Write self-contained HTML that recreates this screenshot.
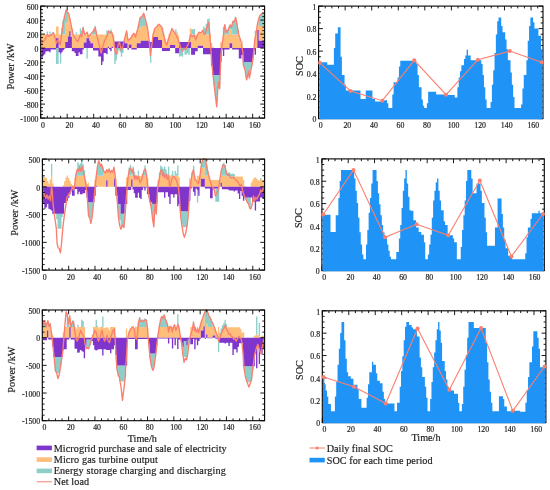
<!DOCTYPE html>
<html><head><meta charset="utf-8"><title>Figure</title>
<style>
html,body{margin:0;padding:0;background:#fff;}
svg{display:block;font-family:"Liberation Serif",serif;}
text{fill:#1c1c1c;stroke:#1c1c1c;stroke-width:0.18px;}
</style></head><body>
<svg width="550" height="490" viewBox="0 0 550 490">
<rect width="550" height="490" fill="#fff"/>
<path d="M41.36 34.45h1.37v13.65h-1.37zM42.69 34.45h1.37v13.65h-1.37zM44.01 34.45h1.37v13.65h-1.37zM45.34 34.45h1.37v13.65h-1.37zM46.66 34.45h1.37v13.65h-1.37zM47.99 34.45h1.37v13.65h-1.37zM49.31 34.45h1.37v13.65h-1.37zM50.64 34.45h1.37v13.65h-1.37zM51.96 34.45h1.37v13.65h-1.37zM53.29 34.45h1.37v13.65h-1.37zM54.61 34.45h1.37v13.65h-1.37zM55.94 26.4h1.37v11.9h-1.37zM57.26 26.4h1.37v11.9h-1.37zM58.59 34.45h1.37v13.65h-1.37zM59.91 34.45h1.37v13.65h-1.37zM61.24 34.45h1.37v13.65h-1.37zM62.56 34.45h1.37v13.65h-1.37zM63.88 34.45h1.37v13.65h-1.37zM65.21 23.11h1.37v18.9h-1.37zM66.53 22.41h1.37v19.6h-1.37zM67.86 14.08h1.37v22.4h-1.37zM69.18 18.74h1.37v12.49h-1.37zM70.51 25.17h1.37v11.94h-1.37zM71.83 34.45h1.37v13.65h-1.37zM73.16 34.45h1.37v13.65h-1.37zM74.48 34.45h1.37v13.65h-1.37zM75.81 34.45h1.37v13.65h-1.37zM77.13 34.45h1.37v13.65h-1.37zM78.46 34.45h1.37v13.65h-1.37zM79.78 34.45h1.37v13.65h-1.37zM81.11 34.45h1.37v13.65h-1.37zM82.43 34.45h1.37v13.65h-1.37zM83.76 34.45h1.37v8.12h-1.37zM85.08 34.45h1.37v8.12h-1.37zM86.41 34.45h1.37v3.85h-1.37zM87.73 34.45h1.37v3.85h-1.37zM89.06 34.45h1.37v6.3h-1.37zM90.38 34.45h1.37v8.75h-1.37zM91.71 34.45h1.37v8.75h-1.37zM93.03 34.45h1.37v13.65h-1.37zM94.36 34.45h1.37v13.65h-1.37zM95.68 34.45h1.37v13.65h-1.37zM97.01 34.45h1.37v13.65h-1.37zM98.33 34.45h1.37v13.65h-1.37zM99.66 34.45h1.37v13.65h-1.37zM100.98 34.45h1.37v13.65h-1.37zM102.31 34.45h1.37v13.65h-1.37zM103.63 34.45h1.37v13.65h-1.37zM104.96 34.45h1.37v13.65h-1.37zM106.28 34.45h1.37v13.65h-1.37zM107.61 33.05h1.37v13.65h-1.37zM108.93 34.45h1.37v13.65h-1.37zM110.25 34.45h1.37v13.65h-1.37zM111.58 33.05h1.37v13.65h-1.37zM112.9 34.45h1.37v13.65h-1.37zM123.5 40.75h1.37v0.63h-1.37zM124.83 35.25h1.37v7.95h-1.37zM126.15 32.41h1.37v10.79h-1.37zM127.48 38.92h1.37v9.18h-1.37zM128.8 39.37h1.37v5.09h-1.37zM130.13 37.96h1.37v6.5h-1.37zM131.45 34.53h1.37v13.57h-1.37zM132.78 32.68h1.37v15.42h-1.37zM134.1 33.93h1.37v14.17h-1.37zM135.43 33.44h1.37v14.66h-1.37zM136.75 30.05h1.37v13.15h-1.37zM138.08 28.5h1.37v14.7h-1.37zM139.4 28.5h1.37v14.7h-1.37zM140.73 26.05h1.37v14.7h-1.37zM142.05 26.05h1.37v14.7h-1.37zM143.38 26.05h1.37v14.7h-1.37zM144.7 26.05h1.37v14.7h-1.37zM146.03 24.61h1.37v16.14h-1.37zM147.35 31.43h1.37v9.32h-1.37zM152.65 33.75h1.37v3.36h-1.37zM153.97 29h1.37v8.11h-1.37zM155.3 27.41h1.37v9.7h-1.37zM156.62 26.03h1.37v11.08h-1.37zM157.95 24.4h1.37v15.72h-1.37zM159.27 25.23h1.37v14.89h-1.37zM160.6 26.35h1.37v13.77h-1.37zM161.92 33.4h1.37v14.7h-1.37zM163.25 33.45h1.37v14.65h-1.37zM164.57 38.71h1.37v9.39h-1.37zM165.9 41.94h1.37v6.16h-1.37zM167.22 38.41h1.37v9.69h-1.37zM168.55 34.08h1.37v14.02h-1.37zM169.87 32.61h1.37v12.41h-1.37zM171.2 28.83h1.37v16.19h-1.37zM172.52 30.38h1.37v14.64h-1.37zM173.85 32.43h1.37v12.59h-1.37zM175.17 33.4h1.37v14.7h-1.37zM176.5 32.19h1.37v15.91h-1.37zM177.82 35.57h1.37v12.53h-1.37zM189.75 28.36h1.37v13.65h-1.37zM191.07 34.45h1.37v13.65h-1.37zM192.4 34.45h1.37v13.65h-1.37zM193.72 34.45h1.37v13.65h-1.37zM195.05 34.45h1.37v13.65h-1.37zM196.37 34.45h1.37v13.65h-1.37zM197.69 32h1.37v13.65h-1.37zM199.02 32h1.37v13.65h-1.37zM200.34 32h1.37v13.65h-1.37zM201.67 32h1.37v13.65h-1.37zM202.99 34.45h1.37v13.65h-1.37zM204.32 34.45h1.37v13.65h-1.37zM205.64 34.45h1.37v13.65h-1.37zM206.97 34.45h1.37v13.65h-1.37zM208.29 34.45h1.37v13.65h-1.37zM209.62 34.57h1.37v13.53h-1.37zM210.94 42.98h1.37v5.12h-1.37zM212.27 46.93h1.37v1.17h-1.37zM220.22 42.32h1.37v5.78h-1.37zM221.54 42.22h1.37v5.88h-1.37zM222.87 33.4h1.37v14.7h-1.37zM224.19 34.45h1.37v13.65h-1.37zM225.52 34.45h1.37v13.65h-1.37zM226.84 34.45h1.37v13.65h-1.37zM228.17 34.45h1.37v13.65h-1.37zM229.49 29.55h1.37v13.65h-1.37zM230.82 29.55h1.37v13.65h-1.37zM232.14 34.45h1.37v13.65h-1.37zM233.47 34.45h1.37v13.65h-1.37zM234.79 34.45h1.37v13.65h-1.37zM236.12 34.45h1.37v13.65h-1.37zM237.44 34.45h1.37v13.65h-1.37zM238.77 38.3h1.37v9.8h-1.37zM240.09 43.9h1.37v4.2h-1.37zM241.42 41.17h1.37v6.93h-1.37zM253.34 47.41h1.37v0.69h-1.37zM254.66 33.4h1.37v14.7h-1.37zM255.99 33.4h1.37v14.7h-1.37zM257.31 21.52h1.37v8.38h-1.37zM258.64 26.05h1.37v14.7h-1.37zM259.96 26.05h1.37v14.7h-1.37zM261.29 26.05h1.37v14.7h-1.37zM262.61 26.05h1.37v14.7h-1.37z" fill="#ffbe7a"/>
<path d="M46.66 31.56h1.37v2.89h-1.37zM49.31 31.45h1.37v3h-1.37zM51.96 32.26h1.37v2.19h-1.37zM55.94 48.1h1.37v15.89h-1.37zM57.26 48.1h1.37v15.89h-1.37zM59.91 53.7h1.37v9.8h-1.37zM61.24 28.08h1.37v6.37h-1.37zM62.56 20.34h1.37v14.11h-1.37zM63.88 15.89h1.37v18.56h-1.37zM65.21 10.74h1.37v12.37h-1.37zM66.53 11.72h1.37v10.69h-1.37zM71.83 28.9h1.37v5.55h-1.37zM75.81 32.36h1.37v2.09h-1.37zM79.78 28.6h1.37v5.85h-1.37zM81.11 30.66h1.37v3.79h-1.37zM82.43 26.57h1.37v7.88h-1.37zM86.41 48.1h1.37v10.5h-1.37zM91.71 32.14h1.37v2.31h-1.37zM93.03 28.57h1.37v5.88h-1.37zM94.36 25.66h1.37v8.79h-1.37zM95.68 30.98h1.37v3.47h-1.37zM106.28 30.14h1.37v4.31h-1.37zM108.93 31.04h1.37v3.41h-1.37zM110.25 29.17h1.37v5.28h-1.37zM114.23 48.1h1.37v15.89h-1.37zM115.55 48.1h1.37v12.49h-1.37zM116.88 48.1h1.37v6.4h-1.37zM118.2 48.1h1.37v1.84h-1.37zM119.53 48.1h1.37v4.03h-1.37zM120.85 48.1h1.37v8.57h-1.37zM122.18 48.1h1.37v4.8h-1.37zM138.08 24.37h1.37v4.13h-1.37zM139.4 18.25h1.37v10.25h-1.37zM140.73 16.77h1.37v9.28h-1.37zM142.05 15.21h1.37v10.84h-1.37zM143.38 14.53h1.37v11.52h-1.37zM144.7 19.16h1.37v6.89h-1.37zM150 48.1h1.37v14.7h-1.37zM161.92 27.88h1.37v5.52h-1.37zM175.17 29.24h1.37v4.16h-1.37zM179.15 48.1h1.37v8.54h-1.37zM180.47 48.1h1.37v7.7h-1.37zM181.8 48.1h1.37v8.54h-1.37zM183.12 48.1h1.37v2.1h-1.37zM184.45 48.1h1.37v6.72h-1.37zM185.77 48.1h1.37v6.3h-1.37zM187.1 48.1h1.37v5.25h-1.37zM188.42 48.1h1.37v7h-1.37zM191.07 29.15h1.37v5.3h-1.37zM192.4 29.31h1.37v5.14h-1.37zM193.72 29.12h1.37v5.33h-1.37zM202.99 26.54h1.37v7.91h-1.37zM204.32 27.95h1.37v6.5h-1.37zM205.64 23.72h1.37v10.73h-1.37zM206.97 19.3h1.37v15.15h-1.37zM208.29 18.58h1.37v15.87h-1.37zM213.59 75.05h1.37v10.9h-1.37zM214.92 75.05h1.37v22.41h-1.37zM216.24 75.05h1.37v28.38h-1.37zM217.57 75.05h1.37v7.47h-1.37zM218.89 75.05h1.37v13.39h-1.37zM222.87 26.97h1.37v6.43h-1.37zM224.19 24.34h1.37v10.11h-1.37zM225.52 29.6h1.37v4.85h-1.37zM226.84 29.46h1.37v4.99h-1.37zM228.17 27.06h1.37v7.39h-1.37zM229.49 24.95h1.37v4.6h-1.37zM230.82 27.25h1.37v2.3h-1.37zM232.14 20.85h1.37v13.6h-1.37zM233.47 19.95h1.37v14.5h-1.37zM234.79 16.91h1.37v17.54h-1.37zM236.12 22.05h1.37v12.4h-1.37zM237.44 29.44h1.37v5.01h-1.37zM242.74 62.1h1.37v2.57h-1.37zM244.06 62.1h1.37v6.89h-1.37zM245.39 62.1h1.37v14.34h-1.37zM246.71 62.1h1.37v15.11h-1.37zM248.04 62.1h1.37v9.15h-1.37zM249.36 62.1h1.37v12.64h-1.37zM250.69 62.1h1.37v5.95h-1.37zM252.01 58.6h1.37v1.75h-1.37zM254.66 30.65h1.37v2.75h-1.37zM255.99 29.4h1.37v4h-1.37zM258.64 17.11h1.37v8.94h-1.37zM259.96 14.84h1.37v11.21h-1.37zM261.29 13.45h1.37v12.6h-1.37zM262.61 12.61h1.37v13.44h-1.37z" fill="#8ecfc9"/>
<path d="M41.36 48.1h1.37v9.8h-1.37zM42.69 48.1h1.37v7.35h-1.37zM44.01 48.1h1.37v6.09h-1.37zM45.34 48.1h1.37v3.5h-1.37zM46.66 48.1h1.37v3.15h-1.37zM47.99 48.1h1.37v3.15h-1.37zM49.31 48.1h1.37v4.2h-1.37zM50.64 48.1h1.37v1.4h-1.37zM51.96 48.1h1.37v1.4h-1.37zM53.29 48.1h1.37v1.4h-1.37zM54.61 48.1h1.37v1.4h-1.37zM55.94 38.3h1.37v9.8h-1.37zM57.26 38.3h1.37v9.8h-1.37zM58.59 48.1h1.37v4.2h-1.37zM59.91 48.1h1.37v5.6h-1.37zM61.24 48.1h1.37v4.2h-1.37zM62.56 48.1h1.37v2.1h-1.37zM63.88 48.1h1.37v0.7h-1.37zM65.21 42.01h1.37v6.09h-1.37zM66.53 42.01h1.37v6.09h-1.37zM67.86 36.48h1.37v11.62h-1.37zM69.18 31.23h1.37v16.87h-1.37zM70.51 37.11h1.37v10.99h-1.37zM71.83 48.1h1.37v3.08h-1.37zM73.16 48.1h1.37v3.08h-1.37zM74.48 48.1h1.37v4.9h-1.37zM75.81 48.1h1.37v7.98h-1.37zM77.13 48.1h1.37v7.98h-1.37zM78.46 48.1h1.37v4.2h-1.37zM79.78 48.1h1.37v6.09h-1.37zM81.11 48.1h1.37v6.09h-1.37zM82.43 48.1h1.37v1.4h-1.37zM83.76 42.57h1.37v5.53h-1.37zM85.08 42.57h1.37v5.53h-1.37zM86.41 38.3h1.37v9.8h-1.37zM87.73 38.3h1.37v9.8h-1.37zM89.06 40.75h1.37v7.35h-1.37zM90.38 43.2h1.37v4.9h-1.37zM91.71 43.2h1.37v4.9h-1.37zM93.03 48.1h1.37v2.45h-1.37zM94.36 48.1h1.37v2.45h-1.37zM95.68 48.1h1.37v2.45h-1.37zM97.01 48.1h1.37v2.45h-1.37zM98.33 48.1h1.37v8.4h-1.37zM99.66 48.1h1.37v8.4h-1.37zM100.98 48.1h1.37v16.8h-1.37zM102.31 48.1h1.37v13.3h-1.37zM103.63 48.1h1.37v4.9h-1.37zM104.96 48.1h1.37v4.9h-1.37zM106.28 48.1h1.37v6.09h-1.37zM107.61 46.7h1.37v1.4h-1.37zM108.93 48.1h1.37v1.05h-1.37zM110.25 48.1h1.37v3.08h-1.37zM111.58 46.7h1.37v1.4h-1.37zM114.23 41.38h1.37v6.72h-1.37zM115.55 41.38h1.37v6.72h-1.37zM116.88 41.38h1.37v6.72h-1.37zM118.2 41.38h1.37v6.72h-1.37zM119.53 41.38h1.37v6.72h-1.37zM120.85 41.38h1.37v6.72h-1.37zM122.18 41.38h1.37v6.72h-1.37zM123.5 41.38h1.37v6.72h-1.37zM124.83 43.2h1.37v4.9h-1.37zM126.15 43.2h1.37v4.9h-1.37zM127.48 48.1h1.37v1.75h-1.37zM128.8 44.46h1.37v3.64h-1.37zM130.13 44.46h1.37v3.64h-1.37zM131.45 48.1h1.37v1.4h-1.37zM132.78 48.1h1.37v1.4h-1.37zM134.1 48.1h1.37v1.4h-1.37zM135.43 48.1h1.37v1.4h-1.37zM136.75 43.2h1.37v4.9h-1.37zM138.08 43.2h1.37v4.9h-1.37zM139.4 43.2h1.37v4.9h-1.37zM140.73 40.75h1.37v7.35h-1.37zM142.05 40.75h1.37v7.35h-1.37zM143.38 40.75h1.37v7.35h-1.37zM144.7 40.75h1.37v7.35h-1.37zM146.03 40.75h1.37v7.35h-1.37zM147.35 40.75h1.37v7.35h-1.37zM148.68 40.75h1.37v7.35h-1.37zM150 42.01h1.37v6.09h-1.37zM151.33 42.01h1.37v6.09h-1.37zM152.65 37.11h1.37v10.99h-1.37zM153.97 37.11h1.37v10.99h-1.37zM155.3 37.11h1.37v10.99h-1.37zM156.62 37.11h1.37v10.99h-1.37zM157.95 40.12h1.37v7.98h-1.37zM159.27 40.12h1.37v7.98h-1.37zM160.6 40.12h1.37v7.98h-1.37zM161.92 48.1h1.37v2.8h-1.37zM163.25 48.1h1.37v2.8h-1.37zM164.57 48.1h1.37v2.8h-1.37zM165.9 48.1h1.37v2.8h-1.37zM167.22 48.1h1.37v2.8h-1.37zM168.55 48.1h1.37v2.8h-1.37zM169.87 45.02h1.37v3.08h-1.37zM171.2 45.02h1.37v3.08h-1.37zM172.52 45.02h1.37v3.08h-1.37zM173.85 45.02h1.37v3.08h-1.37zM175.17 48.1h1.37v5.25h-1.37zM176.5 48.1h1.37v5.25h-1.37zM177.82 48.1h1.37v5.25h-1.37zM179.15 42.01h1.37v6.09h-1.37zM180.47 42.01h1.37v6.09h-1.37zM181.8 42.01h1.37v6.09h-1.37zM183.12 42.01h1.37v6.09h-1.37zM184.45 42.01h1.37v6.09h-1.37zM185.77 42.01h1.37v6.09h-1.37zM187.1 42.01h1.37v6.09h-1.37zM188.42 42.01h1.37v6.09h-1.37zM189.75 42.01h1.37v6.09h-1.37zM191.07 48.1h1.37v6.72h-1.37zM192.4 48.1h1.37v6.72h-1.37zM193.72 48.1h1.37v6.72h-1.37zM195.05 48.1h1.37v3.08h-1.37zM196.37 48.1h1.37v3.08h-1.37zM197.69 45.65h1.37v2.45h-1.37zM199.02 45.65h1.37v2.45h-1.37zM200.34 45.65h1.37v2.45h-1.37zM201.67 45.65h1.37v2.45h-1.37zM202.99 48.1h1.37v6.09h-1.37zM204.32 48.1h1.37v6.09h-1.37zM205.64 48.1h1.37v6.09h-1.37zM206.97 48.1h1.37v6.09h-1.37zM208.29 48.1h1.37v6.09h-1.37zM209.62 48.1h1.37v6.09h-1.37zM210.94 48.1h1.37v17.5h-1.37zM212.27 48.1h1.37v26.95h-1.37zM213.59 48.1h1.37v26.95h-1.37zM214.92 48.1h1.37v26.95h-1.37zM216.24 48.1h1.37v26.95h-1.37zM217.57 48.1h1.37v26.95h-1.37zM218.89 48.1h1.37v26.95h-1.37zM220.22 48.1h1.37v14h-1.37zM221.54 48.1h1.37v1.4h-1.37zM222.87 48.1h1.37v7.98h-1.37zM224.19 48.1h1.37v1.4h-1.37zM225.52 48.1h1.37v1.4h-1.37zM226.84 48.1h1.37v1.4h-1.37zM228.17 48.1h1.37v1.4h-1.37zM229.49 43.2h1.37v4.9h-1.37zM230.82 43.2h1.37v4.9h-1.37zM232.14 48.1h1.37v1.4h-1.37zM233.47 48.1h1.37v1.4h-1.37zM234.79 48.1h1.37v1.4h-1.37zM236.12 48.1h1.37v1.4h-1.37zM237.44 48.1h1.37v1.4h-1.37zM238.77 48.1h1.37v10.5h-1.37zM240.09 48.1h1.37v10.5h-1.37zM241.42 48.1h1.37v7h-1.37zM242.74 48.1h1.37v14h-1.37zM244.06 48.1h1.37v14h-1.37zM245.39 48.1h1.37v14h-1.37zM246.71 48.1h1.37v14h-1.37zM248.04 48.1h1.37v14h-1.37zM249.36 48.1h1.37v14h-1.37zM250.69 48.1h1.37v14h-1.37zM252.01 48.1h1.37v10.5h-1.37zM253.34 48.1h1.37v2.1h-1.37zM254.66 48.1h1.37v6.72h-1.37zM257.31 29.9h1.37v18.2h-1.37zM258.64 40.75h1.37v7.35h-1.37zM259.96 40.75h1.37v7.35h-1.37zM261.29 40.75h1.37v7.35h-1.37zM262.61 40.75h1.37v7.35h-1.37z" fill="#7f35cc"/>
<polyline points="41,44.46 44.97,39.56 47.35,34.66 48.94,36.2 50.92,35.15 53.57,32.84 56.48,43.2 58.2,39.56 60.18,45.02 63.23,22.41 66,10.16 68.78,13.8 70.64,22.41 73.02,34.66 76.72,40.75 78.04,41.38 80.43,34.66 81.75,36.9 83.07,27.87 84.66,34.66 87.17,32.21 88.36,37.11 91.27,33.4 92.86,31.58 94.32,30.6 95.24,27.31 96.57,34.66 98.68,43.2 101.2,53 102.39,48.1 104.5,40.75 107.15,35.85 108.47,30.95 110.33,32.84 111.52,31.65 113.37,38.3 115.09,51.74 116.15,54.19 118.26,44.46 119.45,42.01 121.31,50.55 123.03,45.65 125.01,37.11 126.6,30.95 128.05,40.75 130.57,38.3 132.95,34.66 134.01,33.4 135.46,37.11 137.84,28.5 140.23,17.51 142.21,16.25 143.66,13.24 145.25,18.7 147.63,28.5 149.22,40.75 150.41,55.45 151.47,48.1 153.06,34.66 154.78,28.5 156.76,26.68 158.75,24.23 161.66,26.68 163.51,34.66 165.36,42.01 166.69,45.02 168.4,39.56 170.26,33.4 171.98,28.5 173.96,31.58 175.95,34.66 177.53,38.3 179.39,43.2 181.24,49.29 182.56,51.18 183.88,48.1 185.6,49.29 186.79,46.91 188.65,43.2 190.5,34.66 192.35,36.48 194.2,35.29 195.79,40.12 197.78,34.66 199.1,32.21 201.08,32.84 202.67,30.32 204.52,34.66 205.45,33.4 206.9,27.31 208.76,22.41 209.95,35.85 211.14,53 211.8,63.57 214.84,91.29 216.69,106.76 218.28,81.7 219.6,88.7 220.93,55.1 222.25,43.2 223.57,34.66 224.63,24.86 226.48,32.21 228.34,29.76 230.19,24.86 231.51,27.31 232.57,22.41 234.42,21.15 235.75,17.51 236.8,23.6 238.79,34.66 240.77,40.75 241.83,46.91 243.02,53 243.42,65.18 245.01,69.8 246.59,79.88 247.78,75.82 248.71,71.2 249.37,78.2 250.7,71.2 252.28,63.57 254,49.5 254.66,40.75 255.86,34.66 257.71,22.41 259.56,16.25 261.41,13.8 263.26,12.61" fill="none" stroke="#fa7f6f" stroke-width="1.35" stroke-linejoin="round"/>
<path d="M40.7 118.1v-4.3M40.7 6.1v4.3M47.32 118.1v-2.3M47.32 6.1v2.3M53.95 118.1v-2.3M53.95 6.1v2.3M60.57 118.1v-2.3M60.57 6.1v2.3M67.2 118.1v-4.3M67.2 6.1v4.3M73.82 118.1v-2.3M73.82 6.1v2.3M80.45 118.1v-2.3M80.45 6.1v2.3M87.07 118.1v-2.3M87.07 6.1v2.3M93.69 118.1v-4.3M93.69 6.1v4.3M100.32 118.1v-2.3M100.32 6.1v2.3M106.94 118.1v-2.3M106.94 6.1v2.3M113.57 118.1v-2.3M113.57 6.1v2.3M120.19 118.1v-4.3M120.19 6.1v4.3M126.82 118.1v-2.3M126.82 6.1v2.3M133.44 118.1v-2.3M133.44 6.1v2.3M140.06 118.1v-2.3M140.06 6.1v2.3M146.69 118.1v-4.3M146.69 6.1v4.3M153.31 118.1v-2.3M153.31 6.1v2.3M159.94 118.1v-2.3M159.94 6.1v2.3M166.56 118.1v-2.3M166.56 6.1v2.3M173.19 118.1v-4.3M173.19 6.1v4.3M179.81 118.1v-2.3M179.81 6.1v2.3M186.43 118.1v-2.3M186.43 6.1v2.3M193.06 118.1v-2.3M193.06 6.1v2.3M199.68 118.1v-4.3M199.68 6.1v4.3M206.31 118.1v-2.3M206.31 6.1v2.3M212.93 118.1v-2.3M212.93 6.1v2.3M219.56 118.1v-2.3M219.56 6.1v2.3M226.18 118.1v-4.3M226.18 6.1v4.3M232.8 118.1v-2.3M232.8 6.1v2.3M239.43 118.1v-2.3M239.43 6.1v2.3M246.05 118.1v-2.3M246.05 6.1v2.3M252.68 118.1v-4.3M252.68 6.1v4.3M259.3 118.1v-2.3M259.3 6.1v2.3M40.7 6.1h4.3M264.6 6.1h-4.3M40.7 9.6h2.3M264.6 9.6h-2.3M40.7 13.1h2.3M264.6 13.1h-2.3M40.7 16.6h2.3M264.6 16.6h-2.3M40.7 20.1h4.3M264.6 20.1h-4.3M40.7 23.6h2.3M264.6 23.6h-2.3M40.7 27.1h2.3M264.6 27.1h-2.3M40.7 30.6h2.3M264.6 30.6h-2.3M40.7 34.1h4.3M264.6 34.1h-4.3M40.7 37.6h2.3M264.6 37.6h-2.3M40.7 41.1h2.3M264.6 41.1h-2.3M40.7 44.6h2.3M264.6 44.6h-2.3M40.7 48.1h4.3M264.6 48.1h-4.3M40.7 51.6h2.3M264.6 51.6h-2.3M40.7 55.1h2.3M264.6 55.1h-2.3M40.7 58.6h2.3M264.6 58.6h-2.3M40.7 62.1h4.3M264.6 62.1h-4.3M40.7 65.6h2.3M264.6 65.6h-2.3M40.7 69.1h2.3M264.6 69.1h-2.3M40.7 72.6h2.3M264.6 72.6h-2.3M40.7 76.1h4.3M264.6 76.1h-4.3M40.7 79.6h2.3M264.6 79.6h-2.3M40.7 83.1h2.3M264.6 83.1h-2.3M40.7 86.6h2.3M264.6 86.6h-2.3M40.7 90.1h4.3M264.6 90.1h-4.3M40.7 93.6h2.3M264.6 93.6h-2.3M40.7 97.1h2.3M264.6 97.1h-2.3M40.7 100.6h2.3M264.6 100.6h-2.3M40.7 104.1h4.3M264.6 104.1h-4.3M40.7 107.6h2.3M264.6 107.6h-2.3M40.7 111.1h2.3M264.6 111.1h-2.3M40.7 114.6h2.3M264.6 114.6h-2.3M40.7 118.1h4.3M264.6 118.1h-4.3" stroke="#000" stroke-width="0.9" fill="none"/>
<rect x="40.7" y="6.1" width="223.9" height="112" fill="none" stroke="#000" stroke-width="1.1"/>
<text x="42.9" y="127.7" text-anchor="middle" font-size="7.8">0</text>
<text x="69.4" y="127.7" text-anchor="middle" font-size="7.8">20</text>
<text x="95.89" y="127.7" text-anchor="middle" font-size="7.8">40</text>
<text x="122.39" y="127.7" text-anchor="middle" font-size="7.8">60</text>
<text x="148.89" y="127.7" text-anchor="middle" font-size="7.8">80</text>
<text x="175.39" y="127.7" text-anchor="middle" font-size="7.8">100</text>
<text x="201.88" y="127.7" text-anchor="middle" font-size="7.8">120</text>
<text x="228.38" y="127.7" text-anchor="middle" font-size="7.8">140</text>
<text x="254.88" y="127.7" text-anchor="middle" font-size="7.8">160</text>
<text x="38.5" y="9.8" text-anchor="end" font-size="7.8">600</text>
<text x="38.5" y="23.8" text-anchor="end" font-size="7.8">400</text>
<text x="38.5" y="37.8" text-anchor="end" font-size="7.8">200</text>
<text x="38.5" y="51.8" text-anchor="end" font-size="7.8">0</text>
<text x="38.5" y="65.8" text-anchor="end" font-size="7.8">-200</text>
<text x="38.5" y="79.8" text-anchor="end" font-size="7.8">-400</text>
<text x="38.5" y="93.8" text-anchor="end" font-size="7.8">-600</text>
<text x="38.5" y="107.8" text-anchor="end" font-size="7.8">-800</text>
<text x="38.5" y="121.8" text-anchor="end" font-size="7.8">-1000</text>
<path d="M43.06 175.86h1.36v10.99h-1.36zM44.37 177.42h1.36v9.43h-1.36zM45.69 177.97h1.36v8.88h-1.36zM47 181.08h1.36v5.77h-1.36zM48.32 183.52h1.36v3.33h-1.36zM49.63 179.47h1.36v7.38h-1.36zM50.95 175.86h1.36v10.99h-1.36zM52.26 183.52h1.36v3.33h-1.36zM53.58 186.58h1.36v0.27h-1.36zM62.78 185.19h1.36v1.66h-1.36zM64.09 181.3h1.36v5.55h-1.36zM65.41 177.42h1.36v9.43h-1.36zM66.72 175.42h1.36v11.43h-1.36zM68.04 177.97h1.36v8.88h-1.36zM69.35 180.75h1.36v6.1h-1.36zM70.67 184.07h1.36v2.78h-1.36zM71.98 185.19h1.36v1.66h-1.36zM73.3 185.19h1.36v1.66h-1.36zM74.61 177.77h1.36v9.08h-1.36zM75.93 175.86h1.36v10.99h-1.36zM77.24 175.86h1.36v10.99h-1.36zM78.56 175.86h1.36v10.99h-1.36zM79.87 175.86h1.36v10.99h-1.36zM81.19 175.86h1.36v10.99h-1.36zM82.5 175.86h1.36v10.99h-1.36zM83.82 175.86h1.36v10.99h-1.36zM85.13 180.51h1.36v6.34h-1.36zM86.45 184.01h1.36v2.84h-1.36zM87.76 182.67h1.36v4.18h-1.36zM89.08 186.25h1.36v0.6h-1.36zM93.02 186.52h1.36v0.33h-1.36zM94.33 179.88h1.36v6.97h-1.36zM95.65 175.64h1.36v10.34h-1.36zM96.96 175.86h1.36v10.99h-1.36zM98.28 175.86h1.36v10.99h-1.36zM99.59 175.86h1.36v10.99h-1.36zM100.91 175.86h1.36v10.99h-1.36zM102.22 175.86h1.36v10.99h-1.36zM103.54 171.75h1.36v15.09h-1.36zM104.85 172.57h1.36v14.28h-1.36zM106.17 170.24h1.36v10.03h-1.36zM107.48 171.34h1.36v15.5h-1.36zM108.8 170.01h1.36v16.83h-1.36zM110.11 172.01h1.36v14.84h-1.36zM111.43 171.21h1.36v15.63h-1.36zM112.74 169.57h1.36v17.27h-1.36zM114.06 172.65h1.36v5.99h-1.36zM115.37 178.4h1.36v8.45h-1.36zM125.89 177.49h1.36v9.36h-1.36zM127.2 176.46h1.36v10.39h-1.36zM128.52 175.86h1.36v10.99h-1.36zM129.83 175.86h1.36v10.99h-1.36zM131.15 172.36h1.36v7.1h-1.36zM132.46 175.86h1.36v10.99h-1.36zM133.78 175.86h1.36v10.99h-1.36zM135.09 175.86h1.36v10.99h-1.36zM136.41 175.86h1.36v10.99h-1.36zM137.72 175.86h1.36v10.99h-1.36zM139.04 175.86h1.36v10.99h-1.36zM140.35 175.86h1.36v10.99h-1.36zM141.67 175.86h1.36v10.99h-1.36zM142.98 175.86h1.36v10.99h-1.36zM144.3 175.86h1.36v10.99h-1.36zM145.61 175.86h1.36v10.99h-1.36zM146.93 177.9h1.36v8.95h-1.36zM157.44 179.82h1.36v7.03h-1.36zM158.76 175.86h1.36v10.99h-1.36zM160.07 175.86h1.36v10.99h-1.36zM161.39 175.86h1.36v10.99h-1.36zM162.7 175.86h1.36v10.99h-1.36zM164.02 175.86h1.36v10.99h-1.36zM165.33 175.86h1.36v10.99h-1.36zM166.65 175.86h1.36v10.99h-1.36zM167.96 175.86h1.36v10.99h-1.36zM169.28 175.86h1.36v10.99h-1.36zM170.59 174.51h1.36v12.34h-1.36zM171.91 175.86h1.36v10.99h-1.36zM173.22 175.86h1.36v10.99h-1.36zM174.54 175.86h1.36v10.99h-1.36zM175.85 175.86h1.36v10.99h-1.36zM177.17 175.86h1.36v10.99h-1.36zM178.48 177.35h1.36v9.5h-1.36zM189 178.25h1.36v8.6h-1.36zM190.31 180.4h1.36v6.45h-1.36zM191.63 175.86h1.36v10.99h-1.36zM192.94 175.86h1.36v10.99h-1.36zM194.26 175.86h1.36v10.99h-1.36zM195.57 179.16h1.36v7.69h-1.36zM196.89 175.86h1.36v10.99h-1.36zM198.2 175.86h1.36v10.99h-1.36zM199.52 175.86h1.36v10.99h-1.36zM200.83 167.7h1.36v10.99h-1.36zM202.15 167.7h1.36v10.99h-1.36zM203.46 167.7h1.36v10.99h-1.36zM204.78 175.86h1.36v10.99h-1.36zM206.09 175.86h1.36v10.99h-1.36zM207.41 175.86h1.36v10.99h-1.36zM208.72 176.23h1.36v10.62h-1.36zM210.04 179.91h1.36v6.94h-1.36zM211.35 179.91h1.36v6.94h-1.36zM212.67 179.91h1.36v6.94h-1.36zM213.98 179.91h1.36v6.94h-1.36zM215.3 179.91h1.36v6.94h-1.36zM216.61 179.91h1.36v6.94h-1.36zM217.92 179.91h1.36v6.94h-1.36zM219.24 179.91h1.36v6.94h-1.36zM220.55 171.18h1.36v11.59h-1.36zM221.87 175.86h1.36v10.99h-1.36zM223.18 175.86h1.36v10.99h-1.36zM224.5 175.86h1.36v10.99h-1.36zM225.81 175.86h1.36v10.99h-1.36zM227.13 176.42h1.36v10.43h-1.36zM228.44 176.42h1.36v10.43h-1.36zM229.76 176.42h1.36v10.43h-1.36zM231.07 176.42h1.36v10.43h-1.36zM232.39 176.42h1.36v10.43h-1.36zM233.7 176.42h1.36v10.43h-1.36zM235.02 176.42h1.36v10.43h-1.36zM236.33 176.42h1.36v10.43h-1.36zM237.65 176.42h1.36v10.43h-1.36zM238.96 176.42h1.36v10.43h-1.36zM240.28 176.42h1.36v10.43h-1.36zM241.59 176.42h1.36v10.43h-1.36zM242.91 179.83h1.36v7.02h-1.36zM244.22 186.12h1.36v0.73h-1.36zM250.79 182.41h1.36v4.44h-1.36zM252.11 180.19h1.36v6.66h-1.36zM253.42 177.97h1.36v8.88h-1.36zM254.74 177.14h1.36v9.71h-1.36zM256.05 178.53h1.36v8.32h-1.36zM257.37 180.19h1.36v6.66h-1.36zM258.68 180.75h1.36v6.1h-1.36zM260 179.63h1.36v7.22h-1.36zM261.31 179.63h1.36v7.22h-1.36zM262.63 179.63h1.36v7.22h-1.36z" fill="#ffbe7a"/>
<path d="M50.95 163.98h1.36v11.88h-1.36zM56.21 213.7h1.36v5.55h-1.36zM57.52 213.7h1.36v14.99h-1.36zM58.83 213.7h1.36v14.99h-1.36zM60.15 213.7h1.36v14.99h-1.36zM61.46 213.7h1.36v3.33h-1.36zM75.93 170.01h1.36v5.86h-1.36zM77.24 162.32h1.36v13.54h-1.36zM78.56 164.43h1.36v11.43h-1.36zM79.87 163.19h1.36v12.67h-1.36zM81.19 159.97h1.36v15.89h-1.36zM82.5 164.62h1.36v11.24h-1.36zM83.82 170.35h1.36v5.52h-1.36zM87.76 202.29h1.36v13.88h-1.36zM89.08 202.29h1.36v16.09h-1.36zM90.39 202.29h1.36v16.09h-1.36zM91.7 202.29h1.36v11.1h-1.36zM96.96 165.51h1.36v10.35h-1.36zM98.28 160.98h1.36v14.88h-1.36zM99.59 165.58h1.36v10.28h-1.36zM100.91 164.62h1.36v11.24h-1.36zM102.22 168.2h1.36v7.66h-1.36zM116.69 195.76h1.36v5.73h-1.36zM118 203.92h1.36v14.7h-1.36zM119.32 203.92h1.36v16.09h-1.36zM120.63 213.7h1.36v14.45h-1.36zM121.94 213.7h1.36v11.6h-1.36zM123.26 213.7h1.36v12.83h-1.36zM124.57 203.92h1.36v8.99h-1.36zM128.52 167.46h1.36v8.4h-1.36zM129.83 165.04h1.36v10.82h-1.36zM132.46 166.43h1.36v9.44h-1.36zM133.78 171.81h1.36v4.05h-1.36zM137.72 170.48h1.36v5.38h-1.36zM141.67 173.75h1.36v2.11h-1.36zM142.98 171.29h1.36v4.57h-1.36zM144.3 165.59h1.36v10.27h-1.36zM145.61 172.7h1.36v3.16h-1.36zM148.24 194.13h1.36v2.66h-1.36zM150.87 202.29h1.36v7.52h-1.36zM152.19 203.92h1.36v16.09h-1.36zM153.5 203.92h1.36v16.09h-1.36zM154.81 203.92h1.36v3.65h-1.36zM156.13 202.29h1.36v1.98h-1.36zM158.76 172.87h1.36v2.99h-1.36zM160.07 165.48h1.36v10.38h-1.36zM161.39 166.97h1.36v8.9h-1.36zM162.7 168.74h1.36v7.12h-1.36zM164.02 166.43h1.36v9.44h-1.36zM165.33 169.48h1.36v6.38h-1.36zM166.65 173.8h1.36v2.06h-1.36zM167.96 166.43h1.36v9.44h-1.36zM171.91 170.64h1.36v5.22h-1.36zM174.54 170.82h1.36v5.04h-1.36zM175.85 173.45h1.36v2.41h-1.36zM177.17 165.59h1.36v10.27h-1.36zM181.11 211.25h1.36v13.24h-1.36zM182.43 211.25h1.36v16.1h-1.36zM183.74 211.25h1.36v16.1h-1.36zM185.06 211.25h1.36v16.1h-1.36zM186.37 211.25h1.36v14.91h-1.36zM187.68 211.25h1.36v1.84h-1.36zM191.63 172.23h1.36v3.63h-1.36zM192.94 165.59h1.36v10.27h-1.36zM196.89 190.07h1.36v12.32h-1.36zM199.52 174.37h1.36v1.49h-1.36zM200.83 164.75h1.36v2.95h-1.36zM202.15 160h1.36v7.71h-1.36zM203.46 159.1h1.36v8.6h-1.36zM204.78 159.1h1.36v16.76h-1.36zM206.09 164.71h1.36v11.15h-1.36zM207.41 171.29h1.36v4.57h-1.36zM215.3 188.5h1.36v13.32h-1.36zM216.61 188.5h1.36v13.32h-1.36zM217.92 188.5h1.36v13.32h-1.36zM221.87 163.94h1.36v11.92h-1.36zM223.18 162.76h1.36v13.1h-1.36zM224.5 164.66h1.36v11.2h-1.36zM225.81 170.69h1.36v5.17h-1.36zM227.13 172.89h1.36v3.52h-1.36zM228.44 171.92h1.36v4.5h-1.36zM229.76 173.43h1.36v2.99h-1.36zM231.07 174.09h1.36v2.33h-1.36zM232.39 173.46h1.36v2.95h-1.36zM233.7 174.36h1.36v2.05h-1.36zM245.54 197.48h1.36v2.17h-1.36zM246.85 197.48h1.36v5.18h-1.36zM248.17 197.48h1.36v7.35h-1.36zM249.48 197.48h1.36v10.91h-1.36zM260 177.97h1.36v1.66h-1.36z" fill="#8ecfc9"/>
<path d="M43.06 186.85h1.36v17.07h-1.36zM44.37 186.85h1.36v21.96h-1.36zM45.69 186.85h1.36v20.33h-1.36zM47 186.85h1.36v17.07h-1.36zM48.32 186.85h1.36v21.96h-1.36zM49.63 186.85h1.36v22.77h-1.36zM50.95 186.85h1.36v23.57h-1.36zM52.26 186.85h1.36v26.85h-1.36zM53.58 186.85h1.36v26.85h-1.36zM54.89 186.85h1.36v26.85h-1.36zM56.21 186.85h1.36v26.85h-1.36zM57.52 186.85h1.36v26.85h-1.36zM58.83 186.85h1.36v26.85h-1.36zM60.15 186.85h1.36v26.85h-1.36zM61.46 186.85h1.36v26.85h-1.36zM62.78 186.85h1.36v26.85h-1.36zM64.09 186.85h1.36v16.25h-1.36zM65.41 186.85h1.36v16.25h-1.36zM66.72 186.85h1.36v13.8h-1.36zM68.04 186.85h1.36v10.87h-1.36zM69.35 186.85h1.36v7.28h-1.36zM70.67 186.85h1.36v3.21h-1.36zM71.98 186.85h1.36v8.91h-1.36zM73.3 186.85h1.36v8.91h-1.36zM74.61 186.85h1.36v2.06h-1.36zM75.93 186.85h1.36v2.06h-1.36zM77.24 186.85h1.36v7.28h-1.36zM78.56 186.85h1.36v4.84h-1.36zM79.87 186.85h1.36v7.28h-1.36zM81.19 186.85h1.36v7.28h-1.36zM82.5 186.85h1.36v6.47h-1.36zM83.82 186.85h1.36v6.47h-1.36zM85.13 186.85h1.36v3.21h-1.36zM86.45 186.85h1.36v10.54h-1.36zM87.76 186.85h1.36v15.44h-1.36zM89.08 186.85h1.36v15.44h-1.36zM90.39 186.85h1.36v15.44h-1.36zM91.7 186.85h1.36v15.44h-1.36zM93.02 186.85h1.36v15.44h-1.36zM94.33 186.85h1.36v8.91h-1.36zM95.65 185.98h1.36v0.87h-1.36zM96.96 186.84h1.36v0.01h-1.36zM98.28 186.84h1.36v0.01h-1.36zM99.59 186.84h1.36v0.01h-1.36zM100.91 186.84h1.36v0.01h-1.36zM102.22 186.84h1.36v0.01h-1.36zM103.54 186.84h1.36v0.01h-1.36zM104.85 186.84h1.36v0.01h-1.36zM106.17 180.27h1.36v6.58h-1.36zM107.48 186.84h1.36v0.01h-1.36zM108.8 186.84h1.36v0.01h-1.36zM110.11 186.84h1.36v0.01h-1.36zM111.43 186.84h1.36v0.01h-1.36zM112.74 186.84h1.36v0.01h-1.36zM114.06 178.64h1.36v8.21h-1.36zM115.37 186.85h1.36v8.91h-1.36zM116.69 186.85h1.36v8.91h-1.36zM118 186.85h1.36v17.07h-1.36zM119.32 186.85h1.36v17.07h-1.36zM120.63 186.85h1.36v26.85h-1.36zM121.94 186.85h1.36v26.85h-1.36zM123.26 186.85h1.36v26.85h-1.36zM124.57 186.85h1.36v17.07h-1.36zM125.89 186.85h1.36v17.07h-1.36zM127.2 186.85h1.36v3.21h-1.36zM128.52 186.85h1.36v3.21h-1.36zM129.83 186.85h1.36v3.21h-1.36zM131.15 179.46h1.36v7.39h-1.36zM132.46 186.85h1.36v2.62h-1.36zM133.78 186.85h1.36v6.47h-1.36zM135.09 186.85h1.36v10.87h-1.36zM136.41 186.85h1.36v10.87h-1.36zM137.72 186.85h1.36v5.97h-1.36zM139.04 186.85h1.36v10.87h-1.36zM140.35 186.85h1.36v12.17h-1.36zM141.67 186.85h1.36v3.1h-1.36zM142.98 186.85h1.36v0.76h-1.36zM144.3 186.85h1.36v3.64h-1.36zM145.61 186.85h1.36v0.76h-1.36zM146.93 186.85h1.36v7.28h-1.36zM148.24 186.85h1.36v7.28h-1.36zM149.56 186.85h1.36v15.44h-1.36zM150.87 186.85h1.36v15.44h-1.36zM152.19 186.85h1.36v17.07h-1.36zM153.5 186.85h1.36v17.07h-1.36zM154.81 186.85h1.36v17.07h-1.36zM156.13 186.85h1.36v15.44h-1.36zM157.44 186.85h1.36v5.33h-1.36zM158.76 186.85h1.36v5.33h-1.36zM160.07 186.85h1.36v5.33h-1.36zM161.39 186.85h1.36v5.33h-1.36zM162.7 186.85h1.36v5.33h-1.36zM164.02 186.85h1.36v10.94h-1.36zM165.33 186.85h1.36v5.33h-1.36zM166.65 186.85h1.36v5.33h-1.36zM167.96 186.85h1.36v9.82h-1.36zM169.28 186.85h1.36v17.07h-1.36zM170.59 186.85h1.36v7.28h-1.36zM171.91 186.85h1.36v7.28h-1.36zM173.22 186.85h1.36v10.54h-1.36zM174.54 186.85h1.36v7.28h-1.36zM175.85 186.85h1.36v7.28h-1.36zM177.17 186.85h1.36v19.47h-1.36zM178.48 186.85h1.36v17.07h-1.36zM179.8 186.85h1.36v24.4h-1.36zM181.11 186.85h1.36v24.4h-1.36zM182.43 186.85h1.36v24.4h-1.36zM183.74 186.85h1.36v24.4h-1.36zM185.06 186.85h1.36v24.4h-1.36zM186.37 186.85h1.36v24.4h-1.36zM187.68 186.85h1.36v24.4h-1.36zM189 186.85h1.36v13.8h-1.36zM190.31 186.85h1.36v1.58h-1.36zM191.63 186.85h1.36v0.43h-1.36zM192.94 186.85h1.36v4.86h-1.36zM194.26 186.85h1.36v8.91h-1.36zM195.57 186.85h1.36v1.58h-1.36zM196.89 186.85h1.36v3.22h-1.36zM198.2 186.85h1.36v8.91h-1.36zM200.83 178.69h1.36v8.16h-1.36zM202.15 178.69h1.36v8.16h-1.36zM203.46 178.69h1.36v8.16h-1.36zM204.78 186.85h1.36v1.65h-1.36zM206.09 186.85h1.36v1.65h-1.36zM207.41 186.85h1.36v1.65h-1.36zM208.72 186.85h1.36v1.65h-1.36zM210.04 186.85h1.36v11.45h-1.36zM211.35 186.85h1.36v11.45h-1.36zM212.67 186.85h1.36v2.46h-1.36zM213.98 186.85h1.36v1.65h-1.36zM215.3 186.85h1.36v1.65h-1.36zM216.61 186.85h1.36v1.65h-1.36zM217.92 186.85h1.36v1.65h-1.36zM219.24 186.85h1.36v0.01h-1.36zM220.55 182.78h1.36v4.07h-1.36zM221.87 186.85h1.36v2.46h-1.36zM223.18 186.85h1.36v2.46h-1.36zM224.5 186.85h1.36v2.46h-1.36zM225.81 186.85h1.36v2.46h-1.36zM227.13 186.85h1.36v2.46h-1.36zM228.44 186.85h1.36v3.49h-1.36zM229.76 186.85h1.36v3.77h-1.36zM231.07 186.85h1.36v3.77h-1.36zM232.39 186.85h1.36v3.77h-1.36zM233.7 186.85h1.36v4.69h-1.36zM235.02 186.85h1.36v3.77h-1.36zM236.33 186.85h1.36v3.77h-1.36zM237.65 186.85h1.36v6.55h-1.36zM238.96 186.85h1.36v12.27h-1.36zM240.28 186.85h1.36v4.1h-1.36zM241.59 186.85h1.36v9h-1.36zM242.91 186.85h1.36v13.9h-1.36zM244.22 186.85h1.36v10.63h-1.36zM245.54 186.85h1.36v10.63h-1.36zM246.85 186.85h1.36v10.63h-1.36zM248.17 186.85h1.36v10.63h-1.36zM249.48 186.85h1.36v10.63h-1.36zM250.79 186.85h1.36v10.63h-1.36zM252.11 186.85h1.36v14.72h-1.36zM253.42 186.85h1.36v14.72h-1.36zM254.74 186.85h1.36v23.71h-1.36zM256.05 186.85h1.36v14.72h-1.36zM257.37 186.85h1.36v14.72h-1.36zM258.68 186.85h1.36v14.72h-1.36zM260 186.85h1.36v10.63h-1.36zM261.31 186.85h1.36v10.63h-1.36zM262.63 186.85h1.36v12.27h-1.36z" fill="#7f35cc"/>
<polyline points="42.45,190.06 44.08,194.13 45.71,198.21 46.85,194.95 48.15,199.02 49.46,195.76 50.6,200.65 51.41,186.8 52.23,190.06 53.04,203.92 54.67,216.96 56.31,228.37 57.12,243.92 58.26,247.99 59.24,248.48 60.38,252.88 61.52,243.92 62.83,227.61 64.46,214.57 66.09,203.92 66.9,197.39 68.05,195.76 69.35,193.32 70.98,191.69 72.28,186.8 73.43,190.06 74.57,185.98 75.87,174.57 77.5,168.86 78.81,171.31 79.62,167.23 80.76,171.31 82.07,166.41 83.21,171.31 84.35,176.2 85.65,182.72 86.96,192.5 88.1,208.81 88.92,216.96 89.73,217.78 90.87,223.48 92.18,216.96 93.48,203.92 94.62,192.5 95.11,187.61 96.41,174.57 97.72,164.78 98.86,160.71 100.49,166.41 101.31,163.97 102.61,167.23 103.75,171.31 105.38,172.94 106.52,169.67 107.83,172.12 109.13,168.86 110.27,172.94 111.58,170.49 112.72,172.12 114.02,167.23 115.16,176.2 115.98,186.8 117.28,200.65 118.43,216.96 119.57,225.11 120.87,229.19 122.5,225.11 123.81,227.56 124.95,216.96 126.09,200.65 127.07,187.61 128.21,176.2 129.35,169.67 130.65,168.04 131.96,172.94 133.1,168.86 133.92,176.2 134.73,179.46 135.87,175.38 137.18,179.46 138.48,176.2 139.62,181.09 140,182.72 141.63,179.46 142.93,174.57 144.08,170.49 145.22,168.86 146.52,174.57 147.83,187.61 148.97,197.39 150.11,202.29 151.41,208.81 152.72,220.22 153.86,226.74 155,203.92 156.31,214.02 157.61,187.61 159.24,179.46 160.38,171.31 161.52,169.67 162.83,176.2 163.64,172.94 164.78,177.83 166.09,174.57 167.39,179.46 168.53,175.38 169.68,186.8 170.65,184.35 171.8,179.46 173.43,176.2 175.06,177.83 176.69,181.09 178.32,186.8 179.46,197.39 180.76,216.96 182.07,226.74 183.21,233.27 184.35,237.34 185.65,233.27 186.96,226.74 188.1,216.96 188.92,203.92 189.73,190.87 190.87,182.72 192.18,172.94 193.48,169.67 195,179.51 196.63,181.14 198.27,183.59 199.58,179.51 200.72,169.71 201.86,162.35 203.17,159.08 204.48,158.59 205.62,160.72 206.76,166.44 208.07,172.97 209.38,177.88 210.52,181.96 211.67,186.05 212.97,187.68 214.28,190.13 215.42,195.85 216.57,194.22 217.88,190.95 219.18,184.41 220.33,176.24 221.47,169.71 222.78,165.62 224.08,165.13 225.23,167.25 226.37,172.97 227.68,175.42 228.99,174.61 230.13,177.06 231.76,177.88 233.4,177.06 235.03,179.51 236.67,180.33 238.3,182.78 239.93,186.05 241.08,184.41 242.39,189.31 243.69,194.22 244.84,196.67 245.98,199.12 247.29,202.39 248.59,204.02 249.74,208.1 250.88,208.92 252.19,204.02 253.5,195.85 254.64,200.75 255.78,197.48 257.09,199.12 258.4,195.85 259.54,194.22 260.69,190.13 261.99,191.76 263.3,187.68 264.44,186.05" fill="none" stroke="#fa7f6f" stroke-width="1.35" stroke-linejoin="round"/>
<path d="M42.4 270.1v-4.3M42.4 159.1v4.3M48.97 270.1v-2.3M48.97 159.1v2.3M55.55 270.1v-2.3M55.55 159.1v2.3M62.12 270.1v-2.3M62.12 159.1v2.3M68.7 270.1v-4.3M68.7 159.1v4.3M75.27 270.1v-2.3M75.27 159.1v2.3M81.84 270.1v-2.3M81.84 159.1v2.3M88.42 270.1v-2.3M88.42 159.1v2.3M94.99 270.1v-4.3M94.99 159.1v4.3M101.57 270.1v-2.3M101.57 159.1v2.3M108.14 270.1v-2.3M108.14 159.1v2.3M114.71 270.1v-2.3M114.71 159.1v2.3M121.29 270.1v-4.3M121.29 159.1v4.3M127.86 270.1v-2.3M127.86 159.1v2.3M134.44 270.1v-2.3M134.44 159.1v2.3M141.01 270.1v-2.3M141.01 159.1v2.3M147.58 270.1v-4.3M147.58 159.1v4.3M154.16 270.1v-2.3M154.16 159.1v2.3M160.73 270.1v-2.3M160.73 159.1v2.3M167.31 270.1v-2.3M167.31 159.1v2.3M173.88 270.1v-4.3M173.88 159.1v4.3M180.45 270.1v-2.3M180.45 159.1v2.3M187.03 270.1v-2.3M187.03 159.1v2.3M193.6 270.1v-2.3M193.6 159.1v2.3M200.18 270.1v-4.3M200.18 159.1v4.3M206.75 270.1v-2.3M206.75 159.1v2.3M213.32 270.1v-2.3M213.32 159.1v2.3M219.9 270.1v-2.3M219.9 159.1v2.3M226.47 270.1v-4.3M226.47 159.1v4.3M233.04 270.1v-2.3M233.04 159.1v2.3M239.62 270.1v-2.3M239.62 159.1v2.3M246.19 270.1v-2.3M246.19 159.1v2.3M252.77 270.1v-4.3M252.77 159.1v4.3M259.34 270.1v-2.3M259.34 159.1v2.3M42.4 159.1h4.3M264.6 159.1h-4.3M42.4 164.65h2.3M264.6 164.65h-2.3M42.4 170.2h2.3M264.6 170.2h-2.3M42.4 175.75h2.3M264.6 175.75h-2.3M42.4 181.3h2.3M264.6 181.3h-2.3M42.4 186.85h4.3M264.6 186.85h-4.3M42.4 192.4h2.3M264.6 192.4h-2.3M42.4 197.95h2.3M264.6 197.95h-2.3M42.4 203.5h2.3M264.6 203.5h-2.3M42.4 209.05h2.3M264.6 209.05h-2.3M42.4 214.6h4.3M264.6 214.6h-4.3M42.4 220.15h2.3M264.6 220.15h-2.3M42.4 225.7h2.3M264.6 225.7h-2.3M42.4 231.25h2.3M264.6 231.25h-2.3M42.4 236.8h2.3M264.6 236.8h-2.3M42.4 242.35h4.3M264.6 242.35h-4.3M42.4 247.9h2.3M264.6 247.9h-2.3M42.4 253.45h2.3M264.6 253.45h-2.3M42.4 259h2.3M264.6 259h-2.3M42.4 264.55h2.3M264.6 264.55h-2.3M42.4 270.1h4.3M264.6 270.1h-4.3" stroke="#000" stroke-width="0.9" fill="none"/>
<rect x="42.4" y="159.1" width="222.2" height="111" fill="none" stroke="#000" stroke-width="1.1"/>
<text x="44.6" y="279.7" text-anchor="middle" font-size="7.8">0</text>
<text x="70.9" y="279.7" text-anchor="middle" font-size="7.8">20</text>
<text x="97.19" y="279.7" text-anchor="middle" font-size="7.8">40</text>
<text x="123.49" y="279.7" text-anchor="middle" font-size="7.8">60</text>
<text x="149.78" y="279.7" text-anchor="middle" font-size="7.8">80</text>
<text x="176.08" y="279.7" text-anchor="middle" font-size="7.8">100</text>
<text x="202.38" y="279.7" text-anchor="middle" font-size="7.8">120</text>
<text x="228.67" y="279.7" text-anchor="middle" font-size="7.8">140</text>
<text x="254.97" y="279.7" text-anchor="middle" font-size="7.8">160</text>
<text x="40.2" y="162.8" text-anchor="end" font-size="7.8">500</text>
<text x="40.2" y="190.55" text-anchor="end" font-size="7.8">0</text>
<text x="40.2" y="218.3" text-anchor="end" font-size="7.8">-500</text>
<text x="40.2" y="246.05" text-anchor="end" font-size="7.8">-1000</text>
<text x="40.2" y="273.8" text-anchor="end" font-size="7.8">-1500</text>
<path d="M42.96 326.88h1.37v10.79h-1.37zM44.27 326.88h1.37v10.79h-1.37zM45.59 326.88h1.37v10.79h-1.37zM46.9 321.56h1.37v8.9h-1.37zM48.22 326.88h1.37v10.79h-1.37zM49.53 326.88h1.37v10.79h-1.37zM50.85 331.71h1.37v5.97h-1.37zM52.17 335.46h1.37v2.21h-1.37zM61.37 337.44h1.37v0.24h-1.37zM62.69 332.39h1.37v5.29h-1.37zM64 326.88h1.37v10.79h-1.37zM65.32 326.88h1.37v10.79h-1.37zM66.63 326.88h1.37v10.79h-1.37zM67.95 326.88h1.37v10.79h-1.37zM69.27 317.95h1.37v9.25h-1.37zM70.58 326.88h1.37v10.79h-1.37zM71.9 326.88h1.37v10.79h-1.37zM73.21 326.88h1.37v10.79h-1.37zM74.53 326.88h1.37v10.79h-1.37zM75.84 328.74h1.37v8.93h-1.37zM77.16 326.88h1.37v10.79h-1.37zM78.47 326.88h1.37v10.79h-1.37zM79.79 326.88h1.37v10.79h-1.37zM81.1 326.88h1.37v10.79h-1.37zM82.42 326.88h1.37v10.79h-1.37zM83.73 326.88h1.37v10.79h-1.37zM91.63 334.56h1.37v3.11h-1.37zM92.94 326.7h1.37v10.98h-1.37zM94.26 326.88h1.37v10.79h-1.37zM95.57 326.88h1.37v10.79h-1.37zM96.89 326.09h1.37v11.59h-1.37zM98.2 328.6h1.37v9.07h-1.37zM99.52 326.88h1.37v10.79h-1.37zM100.83 326.88h1.37v10.79h-1.37zM102.15 326.88h1.37v10.79h-1.37zM103.47 328.14h1.37v9.54h-1.37zM104.78 327.89h1.37v9.79h-1.37zM106.1 326.88h1.37v10.79h-1.37zM107.41 328.29h1.37v9.39h-1.37zM108.73 330.25h1.37v7.43h-1.37zM110.04 326.88h1.37v10.79h-1.37zM111.36 326.88h1.37v10.79h-1.37zM112.67 326.88h1.37v10.79h-1.37zM113.99 326.88h1.37v10.79h-1.37zM115.3 337.31h1.37v0.37h-1.37zM125.83 328.42h1.37v9.26h-1.37zM127.14 336.78h1.37v0.89h-1.37zM128.46 331.1h1.37v6.57h-1.37zM129.77 328.15h1.37v9.53h-1.37zM131.09 326.45h1.37v11.23h-1.37zM132.4 325.79h1.37v11.88h-1.37zM133.72 328.53h1.37v9.15h-1.37zM135.03 326.46h1.37v11.22h-1.37zM136.35 326.88h1.37v10.79h-1.37zM137.67 326.88h1.37v10.79h-1.37zM138.98 326.88h1.37v10.79h-1.37zM140.3 326.88h1.37v10.79h-1.37zM141.61 326.88h1.37v10.79h-1.37zM142.93 326.88h1.37v10.79h-1.37zM144.24 326.88h1.37v10.79h-1.37zM145.56 326.88h1.37v10.79h-1.37zM146.87 328.09h1.37v9.58h-1.37zM157.4 333.68h1.37v4h-1.37zM158.71 325.52h1.37v12.15h-1.37zM160.03 326.88h1.37v10.79h-1.37zM161.34 326.88h1.37v10.79h-1.37zM162.66 326.88h1.37v10.79h-1.37zM163.97 326.88h1.37v10.79h-1.37zM165.29 326.88h1.37v10.79h-1.37zM166.6 326.88h1.37v10.79h-1.37zM167.92 326.08h1.37v11.6h-1.37zM169.23 326.13h1.37v11.55h-1.37zM170.55 326.44h1.37v11.23h-1.37zM171.87 326.88h1.37v10.79h-1.37zM173.18 326.88h1.37v10.79h-1.37zM174.5 326.88h1.37v10.79h-1.37zM175.81 327.65h1.37v10.02h-1.37zM177.13 326.88h1.37v10.79h-1.37zM178.44 326.91h1.37v10.76h-1.37zM179.76 335.09h1.37v2.59h-1.37zM188.97 337.63h1.37v0.04h-1.37zM190.28 326.91h1.37v10.76h-1.37zM191.6 326.88h1.37v10.79h-1.37zM192.91 326.88h1.37v10.79h-1.37zM194.23 326.88h1.37v10.79h-1.37zM195.54 329.99h1.37v7.68h-1.37zM196.86 326.88h1.37v10.79h-1.37zM198.17 328.55h1.37v9.13h-1.37zM199.49 326.88h1.37v10.79h-1.37zM200.8 321.62h1.37v8.89h-1.37zM202.12 319.72h1.37v10.79h-1.37zM203.43 315.63h1.37v10.79h-1.37zM204.75 326.88h1.37v10.79h-1.37zM206.07 323.8h1.37v10.79h-1.37zM207.38 326.88h1.37v10.79h-1.37zM208.7 326.88h1.37v10.79h-1.37zM210.01 326.88h1.37v10.79h-1.37zM211.33 326.88h1.37v10.79h-1.37zM212.64 324.56h1.37v10.86h-1.37zM213.96 327.96h1.37v7.45h-1.37zM215.27 330.98h1.37v6.69h-1.37zM216.59 334.47h1.37v3.21h-1.37zM217.9 326.88h1.37v10.79h-1.37zM219.22 336.57h1.37v1.11h-1.37zM220.53 334.35h1.37v3.32h-1.37zM221.85 331.03h1.37v6.64h-1.37zM223.17 328.82h1.37v8.86h-1.37zM224.48 326.88h1.37v10.79h-1.37zM225.8 327.27h1.37v10.41h-1.37zM227.11 327.27h1.37v10.41h-1.37zM228.43 327.27h1.37v10.41h-1.37zM229.74 327.27h1.37v10.41h-1.37zM231.06 327.27h1.37v10.41h-1.37zM232.37 327.27h1.37v10.41h-1.37zM233.69 327.27h1.37v10.41h-1.37zM235 327.27h1.37v10.41h-1.37zM236.32 327.27h1.37v10.41h-1.37zM237.63 327.27h1.37v10.41h-1.37zM238.95 327.27h1.37v10.41h-1.37zM240.27 329.37h1.37v8.3h-1.37zM241.58 332.69h1.37v4.98h-1.37zM242.9 332.18h1.37v5.49h-1.37zM253.42 336.29h1.37v1.38h-1.37zM254.73 335.18h1.37v2.49h-1.37zM256.05 334.35h1.37v3.32h-1.37zM257.37 335.18h1.37v2.49h-1.37zM258.68 336.29h1.37v1.38h-1.37zM260 337.45h1.37v0.23h-1.37zM261.31 335.74h1.37v1.94h-1.37zM262.63 335.74h1.37v1.94h-1.37z" fill="#ffbe7a"/>
<path d="M42.96 322.07h1.37v4.81h-1.37zM44.27 320.2h1.37v6.69h-1.37zM45.59 323.09h1.37v3.79h-1.37zM48.22 324.18h1.37v2.71h-1.37zM49.53 322.74h1.37v4.14h-1.37zM54.8 356.87h1.37v13.99h-1.37zM56.11 356.87h1.37v16.05h-1.37zM57.43 356.87h1.37v16.05h-1.37zM58.74 356.87h1.37v16.05h-1.37zM60.06 356.87h1.37v8.7h-1.37zM66.63 313.72h1.37v13.16h-1.37zM67.95 321.66h1.37v5.22h-1.37zM70.58 324.48h1.37v2.41h-1.37zM71.9 320.36h1.37v6.52h-1.37zM73.21 323.22h1.37v3.66h-1.37zM77.16 324.72h1.37v2.16h-1.37zM81.1 319.85h1.37v7.03h-1.37zM82.42 321.07h1.37v5.81h-1.37zM86.37 339.43h1.37v8.58h-1.37zM87.68 339.43h1.37v9.05h-1.37zM89 339.43h1.37v6.36h-1.37zM90.31 339.43h1.37v2.34h-1.37zM95.57 319.85h1.37v7.03h-1.37zM102.15 316.59h1.37v10.3h-1.37zM116.62 365.51h1.37v4.85h-1.37zM117.93 365.51h1.37v10.69h-1.37zM119.25 365.51h1.37v15.11h-1.37zM120.57 365.51h1.37v16.05h-1.37zM121.88 365.51h1.37v16.05h-1.37zM123.2 365.51h1.37v16.05h-1.37zM124.51 365.51h1.37v12.27h-1.37zM137.67 322.72h1.37v4.16h-1.37zM138.98 316.94h1.37v9.94h-1.37zM140.3 319.59h1.37v7.29h-1.37zM141.61 319.57h1.37v7.31h-1.37zM142.93 319.74h1.37v7.14h-1.37zM144.24 318.44h1.37v8.44h-1.37zM145.56 319.1h1.37v7.79h-1.37zM148.19 343.5h1.37v1.8h-1.37zM149.5 353.61h1.37v4.89h-1.37zM150.82 353.61h1.37v12.92h-1.37zM152.13 353.61h1.37v16.05h-1.37zM153.45 353.61h1.37v12.58h-1.37zM154.77 353.61h1.37v3.03h-1.37zM160.03 318.66h1.37v8.22h-1.37zM161.34 316.26h1.37v10.62h-1.37zM162.66 316.07h1.37v10.81h-1.37zM163.97 315.81h1.37v11.07h-1.37zM165.29 319.55h1.37v7.33h-1.37zM166.6 323.2h1.37v3.68h-1.37zM173.18 325.38h1.37v1.5h-1.37zM177.13 314.15h1.37v12.73h-1.37zM181.07 342.69h1.37v2.12h-1.37zM182.39 346.76h1.37v8.77h-1.37zM183.7 341.06h1.37v16.05h-1.37zM185.02 341.06h1.37v16.05h-1.37zM186.33 345.13h1.37v12.44h-1.37zM187.65 339.43h1.37v9.69h-1.37zM192.91 321.51h1.37v5.37h-1.37zM199.49 325.32h1.37v1.56h-1.37zM202.12 317.8h1.37v1.92h-1.37zM203.43 313.94h1.37v1.69h-1.37zM204.75 310.26h1.37v16.62h-1.37zM206.07 310.24h1.37v13.57h-1.37zM207.38 312.7h1.37v14.19h-1.37zM208.7 315.79h1.37v11.09h-1.37zM210.01 318.35h1.37v8.53h-1.37zM211.33 321.24h1.37v5.64h-1.37zM217.9 341.13h1.37v11.07h-1.37zM219.22 332.65h1.37v3.92h-1.37zM220.53 328.57h1.37v5.79h-1.37zM221.85 325.34h1.37v5.69h-1.37zM223.17 323.33h1.37v5.49h-1.37zM224.48 319.85h1.37v7.03h-1.37zM225.8 323.94h1.37v3.33h-1.37zM244.21 366.13h1.37v7.27h-1.37zM245.53 366.13h1.37v13.19h-1.37zM246.84 366.13h1.37v16.05h-1.37zM248.16 366.13h1.37v16.05h-1.37zM249.47 366.13h1.37v16.05h-1.37zM250.79 366.13h1.37v13.64h-1.37zM252.1 366.13h1.37v3.19h-1.37zM256.05 316.59h1.37v17.77h-1.37zM258.68 323.12h1.37v13.17h-1.37z" fill="#8ecfc9"/>
<path d="M42.96 337.68h1.37v2.57h-1.37zM44.27 337.68h1.37v2.57h-1.37zM45.59 337.68h1.37v2.57h-1.37zM46.9 330.46h1.37v7.22h-1.37zM48.22 337.68h1.37v1.75h-1.37zM49.53 337.68h1.37v1.75h-1.37zM50.85 337.68h1.37v1.75h-1.37zM52.17 337.68h1.37v9.09h-1.37zM53.48 337.68h1.37v19.2h-1.37zM54.8 337.68h1.37v19.2h-1.37zM56.11 337.68h1.37v19.2h-1.37zM57.43 337.68h1.37v19.2h-1.37zM58.74 337.68h1.37v19.2h-1.37zM60.06 337.68h1.37v19.2h-1.37zM61.37 337.68h1.37v19.2h-1.37zM62.69 337.68h1.37v12.35h-1.37zM64 337.68h1.37v11.53h-1.37zM65.32 337.68h1.37v11.53h-1.37zM66.63 337.68h1.37v1.75h-1.37zM67.95 337.68h1.37v1.75h-1.37zM69.27 327.2h1.37v10.48h-1.37zM70.58 337.68h1.37v1.75h-1.37zM71.9 337.68h1.37v1.75h-1.37zM73.21 337.68h1.37v1.75h-1.37zM74.53 337.68h1.37v11.04h-1.37zM75.84 337.68h1.37v11.04h-1.37zM77.16 337.68h1.37v14.96h-1.37zM78.47 337.68h1.37v14.79h-1.37zM79.79 337.68h1.37v12.35h-1.37zM81.1 337.68h1.37v13.1h-1.37zM82.42 337.68h1.37v14.09h-1.37zM83.73 337.68h1.37v20.5h-1.37zM85.05 337.68h1.37v7.46h-1.37zM86.37 337.68h1.37v1.75h-1.37zM87.68 337.68h1.37v1.75h-1.37zM89 337.68h1.37v1.75h-1.37zM90.31 337.68h1.37v1.75h-1.37zM91.63 337.68h1.37v3.38h-1.37zM92.94 337.68h1.37v7.46h-1.37zM94.26 337.68h1.37v12.02h-1.37zM95.57 337.68h1.37v12.85h-1.37zM96.89 337.68h1.37v12.02h-1.37zM98.2 337.68h1.37v11.53h-1.37zM99.52 337.68h1.37v11.53h-1.37zM100.83 337.68h1.37v11.53h-1.37zM102.15 337.68h1.37v17.8h-1.37zM103.47 337.68h1.37v11.53h-1.37zM104.78 337.68h1.37v11.53h-1.37zM106.1 337.68h1.37v12.35h-1.37zM107.41 337.68h1.37v12.35h-1.37zM108.73 337.68h1.37v12.35h-1.37zM110.04 337.68h1.37v15.61h-1.37zM111.36 337.68h1.37v11.53h-1.37zM112.67 337.68h1.37v11.53h-1.37zM113.99 337.68h1.37v7.46h-1.37zM115.3 337.68h1.37v17.24h-1.37zM116.62 337.68h1.37v27.84h-1.37zM117.93 337.68h1.37v27.84h-1.37zM119.25 337.68h1.37v27.84h-1.37zM120.57 337.68h1.37v27.84h-1.37zM121.88 337.68h1.37v27.84h-1.37zM123.2 337.68h1.37v27.84h-1.37zM124.51 337.68h1.37v27.84h-1.37zM125.83 337.68h1.37v27.84h-1.37zM127.14 337.68h1.37v1.42h-1.37zM128.46 337.68h1.37v1.42h-1.37zM129.77 337.68h1.37v1.42h-1.37zM131.09 337.68h1.37v1.42h-1.37zM132.4 337.68h1.37v1.42h-1.37zM133.72 337.68h1.37v1.42h-1.37zM135.03 337.68h1.37v11.53h-1.37zM136.35 337.68h1.37v11.53h-1.37zM137.67 337.68h1.37v1.42h-1.37zM138.98 337.68h1.37v1.42h-1.37zM140.3 337.68h1.37v1.42h-1.37zM141.61 337.68h1.37v1.42h-1.37zM142.93 337.68h1.37v1.42h-1.37zM144.24 337.68h1.37v1.42h-1.37zM145.56 337.68h1.37v1.42h-1.37zM146.87 337.68h1.37v1.42h-1.37zM148.19 337.68h1.37v5.83h-1.37zM149.5 337.68h1.37v15.94h-1.37zM150.82 337.68h1.37v15.94h-1.37zM152.13 337.68h1.37v15.94h-1.37zM153.45 337.68h1.37v15.94h-1.37zM154.77 337.68h1.37v15.94h-1.37zM156.08 337.68h1.37v7.46h-1.37zM157.4 337.68h1.37v0.94h-1.37zM158.71 337.68h1.37v0.94h-1.37zM160.03 337.68h1.37v0.94h-1.37zM161.34 337.68h1.37v0.94h-1.37zM162.66 337.68h1.37v0.94h-1.37zM163.97 337.68h1.37v0.94h-1.37zM165.29 337.68h1.37v0.94h-1.37zM166.6 337.68h1.37v0.94h-1.37zM167.92 337.68h1.37v5.83h-1.37zM169.23 337.68h1.37v0.94h-1.37zM170.55 337.68h1.37v0.94h-1.37zM171.87 337.68h1.37v10.72h-1.37zM173.18 337.68h1.37v0.94h-1.37zM174.5 337.68h1.37v7.46h-1.37zM175.81 337.68h1.37v0.94h-1.37zM177.13 337.68h1.37v11.36h-1.37zM178.44 337.68h1.37v1.75h-1.37zM179.76 337.68h1.37v1.75h-1.37zM181.07 337.68h1.37v5.01h-1.37zM182.39 337.68h1.37v9.09h-1.37zM183.7 337.68h1.37v3.38h-1.37zM185.02 337.68h1.37v3.38h-1.37zM186.33 337.68h1.37v7.46h-1.37zM187.65 337.68h1.37v1.75h-1.37zM188.97 337.68h1.37v1.75h-1.37zM190.28 337.68h1.37v6.64h-1.37zM191.6 337.68h1.37v6.64h-1.37zM192.91 337.68h1.37v1.42h-1.37zM194.23 337.68h1.37v11.53h-1.37zM195.54 337.68h1.37v1.75h-1.37zM196.86 337.68h1.37v7.46h-1.37zM198.17 337.68h1.37v3.38h-1.37zM199.49 337.68h1.37v1h-1.37zM200.8 330.51h1.37v7.17h-1.37zM202.12 330.51h1.37v7.17h-1.37zM203.43 326.42h1.37v11.25h-1.37zM204.75 337.68h1.37v1h-1.37zM206.07 334.59h1.37v3.08h-1.37zM207.38 337.68h1.37v0.68h-1.37zM208.7 337.68h1.37v0.68h-1.37zM210.01 337.68h1.37v0.68h-1.37zM211.33 337.68h1.37v0.68h-1.37zM212.64 335.41h1.37v2.26h-1.37zM213.96 335.41h1.37v2.26h-1.37zM215.27 337.68h1.37v1h-1.37zM216.59 337.68h1.37v1h-1.37zM217.9 337.68h1.37v3.46h-1.37zM219.22 337.68h1.37v5.09h-1.37zM220.53 337.68h1.37v5.09h-1.37zM221.85 337.68h1.37v5.09h-1.37zM223.17 337.68h1.37v5.09h-1.37zM224.48 337.68h1.37v5.94h-1.37zM225.8 337.68h1.37v5.09h-1.37zM227.11 337.68h1.37v5.09h-1.37zM228.43 337.68h1.37v8.36h-1.37zM229.74 337.68h1.37v5.09h-1.37zM231.06 337.68h1.37v5.09h-1.37zM232.37 337.68h1.37v17.34h-1.37zM233.69 337.68h1.37v11.63h-1.37zM235 337.68h1.37v11.63h-1.37zM236.32 337.68h1.37v14.89h-1.37zM237.63 337.68h1.37v9.17h-1.37zM238.95 337.68h1.37v5.58h-1.37zM240.27 337.68h1.37v5.58h-1.37zM241.58 337.68h1.37v5.58h-1.37zM242.9 337.68h1.37v28.46h-1.37zM244.21 337.68h1.37v28.46h-1.37zM245.53 337.68h1.37v28.46h-1.37zM246.84 337.68h1.37v28.46h-1.37zM248.16 337.68h1.37v28.46h-1.37zM249.47 337.68h1.37v28.46h-1.37zM250.79 337.68h1.37v28.46h-1.37zM252.1 337.68h1.37v28.46h-1.37zM253.42 337.68h1.37v28.46h-1.37zM254.73 337.68h1.37v15.71h-1.37zM256.05 337.68h1.37v30.45h-1.37zM257.37 337.68h1.37v9.17h-1.37zM258.68 337.68h1.37v26.26h-1.37zM260 337.68h1.37v15.71h-1.37zM261.31 337.68h1.37v15.71h-1.37zM262.63 337.68h1.37v10.81h-1.37z" fill="#7f35cc"/>
<polyline points="42.45,322.31 43.59,324.75 44.57,320.67 45.71,327.2 46.85,323.94 47.83,320.67 48.97,326.38 50.11,323.94 51.09,330.46 52.23,338.61 53.04,346.76 54.35,359.81 55.49,371.22 56.63,372.85 57.94,378.56 59.24,374.48 60.38,367.96 61.52,359.81 62.83,351.65 63.81,338.61 64.46,330.46 65.27,320.67 66.09,311.71 67.39,315.78 68.53,323.94 69.68,315.78 70.98,327.2 72.28,322.31 73.43,321.49 74.57,330.46 75.87,338.61 77.18,341.06 78.32,338.61 79.46,334.53 80.76,330.46 82.07,333.72 83.21,335.35 84.35,338.61 85,343.5 86.3,348.72 87.45,347.58 88.59,348.72 89.89,345.13 91.2,341.06 92.34,337.8 93.48,334.53 94.78,330.46 96.09,332.09 97.23,336.98 98.37,341.06 99.67,338.61 100.98,333.72 102.12,330.46 103.26,336.98 104.57,341.06 105.87,338.61 107.01,335.35 108.15,341.06 109.46,342.69 110.76,336.98 111.9,333.72 113.05,330.46 114.35,328.83 115.16,338.61 115.98,354.92 116.8,367.96 118.43,376.11 119.23,376.55 121.14,388 122.47,400.41 124,388 125.53,374.64 125.44,371.22 126.58,354.92 127.39,340.24 128.7,333.72 129.84,330.46 131.47,328.01 133.1,327.2 134.24,328.83 135.22,336.98 136.36,339.43 137.5,333.72 138.48,322.31 139.62,318.23 140,321.49 141.63,320.67 143.26,321.49 144.89,319.86 146.52,320.67 147.34,327.2 148.15,336.98 148.97,346.76 150.11,358.18 151.41,366.33 152.72,370.41 153.86,367.96 155,359.81 156.31,350.02 157.12,341.87 157.94,335.35 159.24,327.2 160.38,320.67 161.52,316.6 162.83,318.23 164.13,314.97 165.27,319.04 166.41,321.49 167.72,325.57 168.53,332.09 169.68,327.2 170.98,326.38 172.28,332.09 173.43,327.2 174.57,324.75 175.87,330.46 177.18,326.38 178.32,324.75 179.46,330.46 180.44,336.98 181.58,343.5 182.72,353.29 184.02,362.25 185.33,358.18 186.47,359.81 187.61,354.92 188.59,346.76 189.73,338.61 190.87,333.72 192.18,330.46 193.48,322.31 194.62,330.46 195,327.24 196.31,332.14 197.45,328.88 198.59,332.96 199.9,327.24 201.21,322.34 202.35,319.07 203.99,314.17 205.13,311.72 206.44,309.59 207.75,312.54 208.89,315.8 210.03,317.44 211.34,320.71 212.65,323.16 213.79,325.61 214.93,328.88 216.24,332.96 217.55,336.23 218.69,341.13 219.84,337.86 221.14,333.78 222.45,330.51 223.59,328.88 225.23,325.61 226.37,328.88 227.68,331.33 228.99,334.59 230.13,333.78 231.27,336.23 232.58,337.05 233.89,339.5 235.03,338.68 236.18,341.13 237.48,338.68 238.79,336.23 239.93,337.86 241.08,338.68 242.06,343.58 243.2,355.02 244.02,368.09 245.33,376.26 246.47,380.35 247.61,383.61 248.92,387.05 250.23,383.61 251.37,380.35 252.52,371.36 253.5,363.19 254.64,355.02 255.78,350.12 256.76,346.85 257.91,344.4 259.05,348.48 260.36,352.57 261.18,354.2 261.99,348.48 263.3,341.95 264.44,337.86" fill="none" stroke="#fa7f6f" stroke-width="1.35" stroke-linejoin="round"/>
<path d="M42.3 420.7v-4.3M42.3 310v4.3M48.88 420.7v-2.3M48.88 310v2.3M55.45 420.7v-2.3M55.45 310v2.3M62.03 420.7v-2.3M62.03 310v2.3M68.61 420.7v-4.3M68.61 310v4.3M75.18 420.7v-2.3M75.18 310v2.3M81.76 420.7v-2.3M81.76 310v2.3M88.34 420.7v-2.3M88.34 310v2.3M94.92 420.7v-4.3M94.92 310v4.3M101.49 420.7v-2.3M101.49 310v2.3M108.07 420.7v-2.3M108.07 310v2.3M114.65 420.7v-2.3M114.65 310v2.3M121.22 420.7v-4.3M121.22 310v4.3M127.8 420.7v-2.3M127.8 310v2.3M134.38 420.7v-2.3M134.38 310v2.3M140.95 420.7v-2.3M140.95 310v2.3M147.53 420.7v-4.3M147.53 310v4.3M154.11 420.7v-2.3M154.11 310v2.3M160.68 420.7v-2.3M160.68 310v2.3M167.26 420.7v-2.3M167.26 310v2.3M173.84 420.7v-4.3M173.84 310v4.3M180.42 420.7v-2.3M180.42 310v2.3M186.99 420.7v-2.3M186.99 310v2.3M193.57 420.7v-2.3M193.57 310v2.3M200.15 420.7v-4.3M200.15 310v4.3M206.72 420.7v-2.3M206.72 310v2.3M213.3 420.7v-2.3M213.3 310v2.3M219.88 420.7v-2.3M219.88 310v2.3M226.45 420.7v-4.3M226.45 310v4.3M233.03 420.7v-2.3M233.03 310v2.3M239.61 420.7v-2.3M239.61 310v2.3M246.18 420.7v-2.3M246.18 310v2.3M252.76 420.7v-4.3M252.76 310v4.3M259.34 420.7v-2.3M259.34 310v2.3M42.3 310h4.3M264.6 310h-4.3M42.3 315.54h2.3M264.6 315.54h-2.3M42.3 321.07h2.3M264.6 321.07h-2.3M42.3 326.61h2.3M264.6 326.61h-2.3M42.3 332.14h2.3M264.6 332.14h-2.3M42.3 337.68h4.3M264.6 337.68h-4.3M42.3 343.21h2.3M264.6 343.21h-2.3M42.3 348.75h2.3M264.6 348.75h-2.3M42.3 354.28h2.3M264.6 354.28h-2.3M42.3 359.81h2.3M264.6 359.81h-2.3M42.3 365.35h4.3M264.6 365.35h-4.3M42.3 370.88h2.3M264.6 370.88h-2.3M42.3 376.42h2.3M264.6 376.42h-2.3M42.3 381.95h2.3M264.6 381.95h-2.3M42.3 387.49h2.3M264.6 387.49h-2.3M42.3 393.02h4.3M264.6 393.02h-4.3M42.3 398.56h2.3M264.6 398.56h-2.3M42.3 404.09h2.3M264.6 404.09h-2.3M42.3 409.63h2.3M264.6 409.63h-2.3M42.3 415.16h2.3M264.6 415.16h-2.3M42.3 420.7h4.3M264.6 420.7h-4.3" stroke="#000" stroke-width="0.9" fill="none"/>
<rect x="42.3" y="310" width="222.3" height="110.7" fill="none" stroke="#000" stroke-width="1.1"/>
<text x="44.5" y="430.3" text-anchor="middle" font-size="7.8">0</text>
<text x="70.81" y="430.3" text-anchor="middle" font-size="7.8">20</text>
<text x="97.12" y="430.3" text-anchor="middle" font-size="7.8">40</text>
<text x="123.42" y="430.3" text-anchor="middle" font-size="7.8">60</text>
<text x="149.73" y="430.3" text-anchor="middle" font-size="7.8">80</text>
<text x="176.04" y="430.3" text-anchor="middle" font-size="7.8">100</text>
<text x="202.35" y="430.3" text-anchor="middle" font-size="7.8">120</text>
<text x="228.65" y="430.3" text-anchor="middle" font-size="7.8">140</text>
<text x="254.96" y="430.3" text-anchor="middle" font-size="7.8">160</text>
<text x="40.1" y="313.7" text-anchor="end" font-size="7.8">500</text>
<text x="40.1" y="341.38" text-anchor="end" font-size="7.8">0</text>
<text x="40.1" y="369.05" text-anchor="end" font-size="7.8">-500</text>
<text x="40.1" y="396.72" text-anchor="end" font-size="7.8">-1000</text>
<text x="40.1" y="424.4" text-anchor="end" font-size="7.8">-1500</text>
<path d="M318.6 118.6v-4.3M318.6 6.1v4.3M325.24 118.6v-2.3M325.24 6.1v2.3M331.88 118.6v-2.3M331.88 6.1v2.3M338.52 118.6v-2.3M338.52 6.1v2.3M345.16 118.6v-4.3M345.16 6.1v4.3M351.8 118.6v-2.3M351.8 6.1v2.3M358.43 118.6v-2.3M358.43 6.1v2.3M365.07 118.6v-2.3M365.07 6.1v2.3M371.71 118.6v-4.3M371.71 6.1v4.3M378.35 118.6v-2.3M378.35 6.1v2.3M384.99 118.6v-2.3M384.99 6.1v2.3M391.63 118.6v-2.3M391.63 6.1v2.3M398.27 118.6v-4.3M398.27 6.1v4.3M404.91 118.6v-2.3M404.91 6.1v2.3M411.55 118.6v-2.3M411.55 6.1v2.3M418.19 118.6v-2.3M418.19 6.1v2.3M424.82 118.6v-4.3M424.82 6.1v4.3M431.46 118.6v-2.3M431.46 6.1v2.3M438.1 118.6v-2.3M438.1 6.1v2.3M444.74 118.6v-2.3M444.74 6.1v2.3M451.38 118.6v-4.3M451.38 6.1v4.3M458.02 118.6v-2.3M458.02 6.1v2.3M464.66 118.6v-2.3M464.66 6.1v2.3M471.3 118.6v-2.3M471.3 6.1v2.3M477.94 118.6v-4.3M477.94 6.1v4.3M484.58 118.6v-2.3M484.58 6.1v2.3M491.22 118.6v-2.3M491.22 6.1v2.3M497.85 118.6v-2.3M497.85 6.1v2.3M504.49 118.6v-4.3M504.49 6.1v4.3M511.13 118.6v-2.3M511.13 6.1v2.3M517.77 118.6v-2.3M517.77 6.1v2.3M524.41 118.6v-2.3M524.41 6.1v2.3M531.05 118.6v-4.3M531.05 6.1v4.3M537.69 118.6v-2.3M537.69 6.1v2.3M318.6 118.6h4.3M543 118.6h-4.3M318.6 112.97h2.3M543 112.97h-2.3M318.6 107.35h2.3M543 107.35h-2.3M318.6 101.72h2.3M543 101.72h-2.3M318.6 96.1h4.3M543 96.1h-4.3M318.6 90.47h2.3M543 90.47h-2.3M318.6 84.85h2.3M543 84.85h-2.3M318.6 79.22h2.3M543 79.22h-2.3M318.6 73.6h4.3M543 73.6h-4.3M318.6 67.97h2.3M543 67.97h-2.3M318.6 62.35h2.3M543 62.35h-2.3M318.6 56.72h2.3M543 56.72h-2.3M318.6 51.1h4.3M543 51.1h-4.3M318.6 45.47h2.3M543 45.47h-2.3M318.6 39.85h2.3M543 39.85h-2.3M318.6 34.22h2.3M543 34.22h-2.3M318.6 28.6h4.3M543 28.6h-4.3M318.6 22.97h2.3M543 22.97h-2.3M318.6 17.35h2.3M543 17.35h-2.3M318.6 11.72h2.3M543 11.72h-2.3M318.6 6.1h4.3M543 6.1h-4.3" stroke="#000" stroke-width="0.9" fill="none"/>
<rect x="318.6" y="6.1" width="224.4" height="112.5" fill="none" stroke="#000" stroke-width="1.1"/>
<text x="320.8" y="128.2" text-anchor="middle" font-size="7.8">0</text>
<text x="347.36" y="128.2" text-anchor="middle" font-size="7.8">20</text>
<text x="373.91" y="128.2" text-anchor="middle" font-size="7.8">40</text>
<text x="400.47" y="128.2" text-anchor="middle" font-size="7.8">60</text>
<text x="427.02" y="128.2" text-anchor="middle" font-size="7.8">80</text>
<text x="453.58" y="128.2" text-anchor="middle" font-size="7.8">100</text>
<text x="480.14" y="128.2" text-anchor="middle" font-size="7.8">120</text>
<text x="506.69" y="128.2" text-anchor="middle" font-size="7.8">140</text>
<text x="533.25" y="128.2" text-anchor="middle" font-size="7.8">160</text>
<text x="316.4" y="122.3" text-anchor="end" font-size="7.8">0</text>
<text x="316.4" y="99.8" text-anchor="end" font-size="7.8">0.2</text>
<text x="316.4" y="77.3" text-anchor="end" font-size="7.8">0.4</text>
<text x="316.4" y="54.8" text-anchor="end" font-size="7.8">0.6</text>
<text x="316.4" y="32.3" text-anchor="end" font-size="7.8">0.8</text>
<text x="316.4" y="9.8" text-anchor="end" font-size="7.8">1</text>
<path d="M319.26 62.29H320.64V119.2H319.26zM320.59 62.29H321.97V119.2H320.59zM321.92 62.29H323.3V119.2H321.92zM323.25 62.29H324.63V119.2H323.25zM324.58 62.29H325.95V119.2H324.58zM325.9 62.29H327.28V119.2H325.9zM327.23 64.74H328.61V119.2H327.23zM328.56 64.74H329.94V119.2H328.56zM329.89 64.74H331.26V119.2H329.89zM331.21 64.74H332.59V119.2H331.21zM332.54 64.74H333.92V119.2H332.54zM333.87 48.09H335.25V119.2H333.87zM335.2 33.39H336.58V119.2H335.2zM336.53 33.39H337.9V119.2H336.53zM337.85 27.27H339.23V119.2H337.85zM339.18 27.27H340.56V119.2H339.18zM340.51 56.66H341.89V119.2H340.51zM341.84 75.03H343.21V119.2H341.84zM343.16 75.03H344.54V119.2H343.16zM344.49 84.82H345.87V119.2H344.49zM345.82 90.46H347.2V119.2H345.82zM347.15 90.46H348.53V119.2H347.15zM348.48 90.46H349.85V119.2H348.48zM349.8 90.46H351.18V119.2H349.8zM351.13 90.46H352.51V119.2H351.13zM352.46 90.46H353.84V119.2H352.46zM353.79 90.46H355.16V119.2H353.79zM355.11 90.46H356.49V119.2H355.11zM356.44 90.46H357.82V119.2H356.44zM357.77 90.46H359.15V119.2H357.77zM359.1 90.46H360.48V119.2H359.1zM360.43 99.03H361.8V119.2H360.43zM361.75 99.03H363.13V119.2H361.75zM363.08 99.03H364.46V119.2H363.08zM364.41 99.03H365.79V119.2H364.41zM365.74 90.46H367.12V119.2H365.74zM367.07 90.46H368.44V119.2H367.07zM368.39 90.46H369.77V119.2H368.39zM369.72 90.46H371.1V119.2H369.72zM371.05 90.46H372.43V119.2H371.05zM372.38 99.03H373.75V119.2H372.38zM373.7 99.03H375.08V119.2H373.7zM375.03 101.48H376.41V119.2H375.03zM376.36 101.48H377.74V119.2H376.36zM377.69 101.48H379.07V119.2H377.69zM379.02 101.48H380.39V119.2H379.02zM380.34 101.48H381.72V119.2H380.34zM381.67 101.48H383.05V119.2H381.67zM383 100.25H384.38V119.2H383zM384.33 100.25H385.7V119.2H384.33zM385.65 100.25H387.03V119.2H385.65zM386.98 103.19H388.36V119.2H386.98zM388.31 108.09H389.69V119.2H388.31zM389.64 108.09H391.02V119.2H389.64zM390.97 108.09H392.34V119.2H390.97zM392.29 94.62H393.67V119.2H392.29zM393.62 82.37H395V119.2H393.62zM394.95 82.37H396.33V119.2H394.95zM396.28 82.37H397.65V119.2H396.28zM397.6 77.48H398.98V119.2H397.6zM398.93 66.45H400.31V119.2H398.93zM400.26 60.82H401.64V119.2H400.26zM401.59 60.82H402.97V119.2H401.59zM402.92 60.82H404.29V119.2H402.92zM404.24 60.82H405.62V119.2H404.24zM405.57 60.82H406.95V119.2H405.57zM406.9 60.82H408.28V119.2H406.9zM408.23 60.82H409.61V119.2H408.23zM409.56 60.82H410.93V119.2H409.56zM410.88 60.82H412.26V119.2H410.88zM412.21 60.82H413.59V119.2H412.21zM413.54 60.82H414.92V119.2H413.54zM414.87 60.82H416.24V119.2H414.87zM416.19 64H417.57V119.2H416.19zM417.52 75.03H418.9V119.2H417.52zM418.85 87.27H420.23V119.2H418.85zM420.18 87.27H421.56V119.2H420.18zM421.51 99.52H422.88V119.2H421.51zM422.83 105.64H424.21V119.2H422.83zM424.16 108.09H425.54V119.2H424.16zM425.49 108.09H426.87V119.2H425.49zM426.82 103.19H428.19V119.2H426.82zM428.14 91.68H429.52V119.2H428.14zM429.47 91.68H430.85V119.2H429.47zM430.8 91.68H432.18V119.2H430.8zM432.13 91.68H433.51V119.2H432.13zM433.46 91.68H434.83V119.2H433.46zM434.78 91.68H436.16V119.2H434.78zM436.11 94.62H437.49V119.2H436.11zM437.44 94.62H438.82V119.2H437.44zM438.77 94.62H440.14V119.2H438.77zM440.09 94.62H441.47V119.2H440.09zM441.42 94.62H442.8V119.2H441.42zM442.75 94.62H444.13V119.2H442.75zM444.08 94.62H445.46V119.2H444.08zM445.41 95.11H446.78V119.2H445.41zM446.73 95.11H448.11V119.2H446.73zM448.06 95.11H449.44V119.2H448.06zM449.39 95.11H450.77V119.2H449.39zM450.72 95.11H452.09V119.2H450.72zM452.04 95.11H453.42V119.2H452.04zM453.37 95.11H454.75V119.2H453.37zM454.7 97.56H456.08V119.2H454.7zM456.03 97.56H457.41V119.2H456.03zM457.36 87.27H458.73V119.2H457.36zM458.68 77.48H460.06V119.2H458.68zM460.01 71.35H461.39V119.2H460.01zM461.34 65.23H462.72V119.2H461.34zM462.67 65.23H464.05V119.2H462.67zM464 59.11H465.37V119.2H464zM465.32 55.43H466.7V119.2H465.32zM466.65 49.8H468.03V119.2H466.65zM467.98 55.43H469.36V119.2H467.98zM469.31 55.43H470.68V119.2H469.31zM470.63 60.33H472.01V119.2H470.63zM471.96 60.33H473.34V119.2H471.96zM473.29 60.33H474.67V119.2H473.29zM474.62 60.33H476V119.2H474.62zM475.95 60.33H477.32V119.2H475.95zM477.27 60.33H478.65V119.2H477.27zM478.6 60.33H479.98V119.2H478.6zM479.93 60.33H481.31V119.2H479.93zM481.26 64H482.63V119.2H481.26zM482.58 75.03H483.96V119.2H482.58zM483.91 87.27H485.29V119.2H483.91zM485.24 99.52H486.62V119.2H485.24zM486.57 108.09H487.95V119.2H486.57zM487.9 108.09H489.27V119.2H487.9zM489.22 108.09H490.6V119.2H489.22zM490.55 101.97H491.93V119.2H490.55zM491.88 84.82H493.26V119.2H491.88zM493.21 70.13H494.58V119.2H493.21zM494.53 52.98H495.91V119.2H494.53zM495.86 34.61H497.24V119.2H495.86zM497.19 21.14H498.57V119.2H497.19zM498.52 17.47H499.9V119.2H498.52zM499.85 17.47H501.22V119.2H499.85zM501.17 26.04H502.55V119.2H501.17zM502.5 32.17H503.88V119.2H502.5zM503.83 32.17H505.21V119.2H503.83zM505.16 39.51H506.54V119.2H505.16zM506.49 49.31H507.86V119.2H506.49zM507.81 60.33H509.19V119.2H507.81zM509.14 60.33H510.52V119.2H509.14zM510.47 72.58H511.85V119.2H510.47zM511.8 84.82H513.17V119.2H511.8zM513.12 97.07H514.5V119.2H513.12zM514.45 108.09H515.83V119.2H514.45zM515.78 108.09H517.16V119.2H515.78zM517.11 108.09H518.49V119.2H517.11zM518.44 108.09H519.81V119.2H518.44zM519.76 108.09H521.14V119.2H519.76zM521.09 104.42H522.47V119.2H521.09zM522.42 88.5H523.8V119.2H522.42zM523.75 75.03H525.12V119.2H523.75zM525.07 75.03H526.45V119.2H525.07zM526.4 60.33H527.78V119.2H526.4zM527.73 40.74H529.11V119.2H527.73zM529.06 26.04H530.44V119.2H529.06zM530.39 17.47H531.76V119.2H530.39zM531.71 17.47H533.09V119.2H531.71zM533.04 22.37H534.42V119.2H533.04zM534.37 28.49H535.75V119.2H534.37zM535.7 28.49H537.07V119.2H535.7zM537.02 28.49H538.4V119.2H537.02zM538.35 35.84H539.73V119.2H538.35zM539.68 35.84H541.06V119.2H539.68zM541.01 49.31H542.39V119.2H541.01z" fill="#2094f6"/>
<polyline points="319.93,62.8 350.47,90.92 382.33,100.71 414.2,60.32 446.07,94.64 477.94,59.65 509.8,51.1 541.67,62.35" fill="none" stroke="#fa7f6f" stroke-width="1.1"/>
<circle cx="319.93" cy="62.8" r="2" fill="#fa7f6f"/>
<circle cx="350.47" cy="90.92" r="2" fill="#fa7f6f"/>
<circle cx="382.33" cy="100.71" r="2" fill="#fa7f6f"/>
<circle cx="414.2" cy="60.32" r="2" fill="#fa7f6f"/>
<circle cx="446.07" cy="94.64" r="2" fill="#fa7f6f"/>
<circle cx="477.94" cy="59.65" r="2" fill="#fa7f6f"/>
<circle cx="509.8" cy="51.1" r="2" fill="#fa7f6f"/>
<circle cx="541.67" cy="62.35" r="2" fill="#fa7f6f"/>
<path d="M321.9 270.6v-4.3M321.9 158.9v4.3M328.48 270.6v-2.3M328.48 158.9v2.3M335.06 270.6v-2.3M335.06 158.9v2.3M341.64 270.6v-2.3M341.64 158.9v2.3M348.22 270.6v-4.3M348.22 158.9v4.3M354.8 270.6v-2.3M354.8 158.9v2.3M361.38 270.6v-2.3M361.38 158.9v2.3M367.96 270.6v-2.3M367.96 158.9v2.3M374.54 270.6v-4.3M374.54 158.9v4.3M381.12 270.6v-2.3M381.12 158.9v2.3M387.7 270.6v-2.3M387.7 158.9v2.3M394.28 270.6v-2.3M394.28 158.9v2.3M400.86 270.6v-4.3M400.86 158.9v4.3M407.44 270.6v-2.3M407.44 158.9v2.3M414.02 270.6v-2.3M414.02 158.9v2.3M420.6 270.6v-2.3M420.6 158.9v2.3M427.18 270.6v-4.3M427.18 158.9v4.3M433.76 270.6v-2.3M433.76 158.9v2.3M440.34 270.6v-2.3M440.34 158.9v2.3M446.92 270.6v-2.3M446.92 158.9v2.3M453.5 270.6v-4.3M453.5 158.9v4.3M460.08 270.6v-2.3M460.08 158.9v2.3M466.66 270.6v-2.3M466.66 158.9v2.3M473.24 270.6v-2.3M473.24 158.9v2.3M479.82 270.6v-4.3M479.82 158.9v4.3M486.4 270.6v-2.3M486.4 158.9v2.3M492.98 270.6v-2.3M492.98 158.9v2.3M499.56 270.6v-2.3M499.56 158.9v2.3M506.14 270.6v-4.3M506.14 158.9v4.3M512.72 270.6v-2.3M512.72 158.9v2.3M519.3 270.6v-2.3M519.3 158.9v2.3M525.88 270.6v-2.3M525.88 158.9v2.3M532.46 270.6v-4.3M532.46 158.9v4.3M539.04 270.6v-2.3M539.04 158.9v2.3M321.9 270.6h4.3M544.3 270.6h-4.3M321.9 265.02h2.3M544.3 265.02h-2.3M321.9 259.43h2.3M544.3 259.43h-2.3M321.9 253.85h2.3M544.3 253.85h-2.3M321.9 248.26h4.3M544.3 248.26h-4.3M321.9 242.68h2.3M544.3 242.68h-2.3M321.9 237.09h2.3M544.3 237.09h-2.3M321.9 231.5h2.3M544.3 231.5h-2.3M321.9 225.92h4.3M544.3 225.92h-4.3M321.9 220.34h2.3M544.3 220.34h-2.3M321.9 214.75h2.3M544.3 214.75h-2.3M321.9 209.17h2.3M544.3 209.17h-2.3M321.9 203.58h4.3M544.3 203.58h-4.3M321.9 198h2.3M544.3 198h-2.3M321.9 192.41h2.3M544.3 192.41h-2.3M321.9 186.83h2.3M544.3 186.83h-2.3M321.9 181.24h4.3M544.3 181.24h-4.3M321.9 175.66h2.3M544.3 175.66h-2.3M321.9 170.07h2.3M544.3 170.07h-2.3M321.9 164.49h2.3M544.3 164.49h-2.3M321.9 158.9h4.3M544.3 158.9h-4.3" stroke="#000" stroke-width="0.9" fill="none"/>
<rect x="321.9" y="158.9" width="222.4" height="111.7" fill="none" stroke="#000" stroke-width="1.1"/>
<text x="324.1" y="280.2" text-anchor="middle" font-size="7.8">0</text>
<text x="350.42" y="280.2" text-anchor="middle" font-size="7.8">20</text>
<text x="376.74" y="280.2" text-anchor="middle" font-size="7.8">40</text>
<text x="403.06" y="280.2" text-anchor="middle" font-size="7.8">60</text>
<text x="429.38" y="280.2" text-anchor="middle" font-size="7.8">80</text>
<text x="455.7" y="280.2" text-anchor="middle" font-size="7.8">100</text>
<text x="482.02" y="280.2" text-anchor="middle" font-size="7.8">120</text>
<text x="508.34" y="280.2" text-anchor="middle" font-size="7.8">140</text>
<text x="534.66" y="280.2" text-anchor="middle" font-size="7.8">160</text>
<text x="319.7" y="274.3" text-anchor="end" font-size="7.8">0</text>
<text x="319.7" y="251.96" text-anchor="end" font-size="7.8">0.2</text>
<text x="319.7" y="229.62" text-anchor="end" font-size="7.8">0.4</text>
<text x="319.7" y="207.28" text-anchor="end" font-size="7.8">0.6</text>
<text x="319.7" y="184.94" text-anchor="end" font-size="7.8">0.8</text>
<text x="319.7" y="162.6" text-anchor="end" font-size="7.8">1</text>
<path d="M322.56 214.74H323.92V271.2H322.56zM323.87 214.74H325.24V271.2H323.87zM325.19 214.74H326.56V271.2H325.19zM326.51 214.74H327.87V271.2H326.51zM327.82 214.74H329.19V271.2H327.82zM329.14 214.74H330.5V271.2H329.14zM330.45 231.88H331.82V271.2H330.45zM331.77 231.88H333.14V271.2H331.77zM333.09 231.88H334.45V271.2H333.09zM334.4 231.88H335.77V271.2H334.4zM335.72 215.23H337.08V271.2H335.72zM337.03 215.23H338.4V271.2H337.03zM338.35 198.09H339.72V271.2H338.35zM339.67 180.94H341.03V271.2H339.67zM340.98 169.92H342.35V271.2H340.98zM342.3 169.92H343.66V271.2H342.3zM343.61 169.92H344.98V271.2H343.61zM344.93 169.92H346.3V271.2H344.93zM346.25 169.92H347.61V271.2H346.25zM347.56 169.92H348.93V271.2H347.56zM348.88 169.92H350.24V271.2H348.88zM350.19 169.92H351.56V271.2H350.19zM351.51 169.92H352.88V271.2H351.51zM352.83 169.92H354.19V271.2H352.83zM354.14 178.49H355.51V271.2H354.14zM355.46 190.74H356.82V271.2H355.46zM356.77 202.98H358.14V271.2H356.77zM358.09 217.68H359.46V271.2H358.09zM359.41 232.37H360.77V271.2H359.41zM360.72 244.62H362.09V271.2H360.72zM362.04 254.42H363.4V271.2H362.04zM363.35 259.31H364.72V271.2H363.35zM364.67 259.31H366.04V271.2H364.67zM365.99 244.62H367.35V271.2H365.99zM367.3 229.92H368.67V271.2H367.3zM368.62 212.78H369.98V271.2H368.62zM369.93 198.09H371.3V271.2H369.93zM371.25 183.39H372.62V271.2H371.25zM372.57 169.92H373.93V271.2H372.57zM373.88 169.92H375.25V271.2H373.88zM375.2 169.92H376.56V271.2H375.2zM376.51 180.94H377.88V271.2H376.51zM377.83 193.19H379.19V271.2H377.83zM379.14 204.21H380.51V271.2H379.14zM380.46 215.23H381.83V271.2H380.46zM381.78 225.03H383.14V271.2H381.78zM383.09 232.37H384.46V271.2H383.09zM384.41 238.5H385.77V271.2H384.41zM385.72 238.5H387.09V271.2H385.72zM387.04 244.62H388.41V271.2H387.04zM388.36 250.74H389.72V271.2H388.36zM389.67 256.87H391.04V271.2H389.67zM390.99 259.31H392.35V271.2H390.99zM392.3 259.31H393.67V271.2H392.3zM393.62 259.31H394.99V271.2H393.62zM394.94 259.31H396.3V271.2H394.94zM396.25 251.97H397.62V271.2H396.25zM397.57 251.97H398.93V271.2H397.57zM398.88 238.5H400.25V271.2H398.88zM400.2 225.03H401.57V271.2H400.2zM401.52 207.88H402.88V271.2H401.52zM402.83 190.74H404.2V271.2H402.83zM404.15 178.49H405.51V271.2H404.15zM405.46 169.92H406.83V271.2H405.46zM406.78 183.39H408.15V271.2H406.78zM408.1 196.86H409.46V271.2H408.1zM409.41 210.33H410.78V271.2H409.41zM410.73 210.82H412.09V271.2H410.73zM412.04 210.82H413.41V271.2H412.04zM413.36 220.13H414.73V271.2H413.36zM414.68 220.13H416.04V271.2H414.68zM415.99 227.48H417.36V271.2H415.99zM417.31 227.48H418.67V271.2H417.31zM418.62 231.88H419.99V271.2H418.62zM419.94 231.88H421.31V271.2H419.94zM421.26 234.82H422.62V271.2H421.26zM422.57 234.82H423.94V271.2H422.57zM423.89 242.17H425.25V271.2H423.89zM425.2 259.31H426.57V271.2H425.2zM426.52 259.31H427.89V271.2H426.52zM427.84 254.42H429.2V271.2H427.84zM429.15 244.62H430.52V271.2H429.15zM430.47 234.82H431.83V271.2H430.47zM431.78 217.68H433.15V271.2H431.78zM433.1 200.53H434.47V271.2H433.1zM434.42 190.74H435.78V271.2H434.42zM435.73 182.17H437.1V271.2H435.73zM437.05 178.49H438.41V271.2H437.05zM438.36 190.74H439.73V271.2H438.36zM439.68 200.53H441.05V271.2H439.68zM441 210.33H442.36V271.2H441zM442.31 210.33H443.68V271.2H442.31zM443.63 221.35H444.99V271.2H443.63zM444.94 225.03H446.31V271.2H444.94zM446.26 225.03H447.63V271.2H446.26zM447.58 235.31H448.94V271.2H447.58zM448.89 235.31H450.26V271.2H448.89zM450.21 235.31H451.57V271.2H450.21zM451.52 235.31H452.89V271.2H451.52zM452.84 238.5H454.21V271.2H452.84zM454.16 242.17H455.52V271.2H454.16zM455.47 242.17H456.84V271.2H455.47zM456.79 259.31H458.15V271.2H456.79zM458.1 259.31H459.47V271.2H458.1zM459.42 259.31H460.79V271.2H459.42zM460.74 247.07H462.1V271.2H460.74zM462.05 229.92H463.42V271.2H462.05zM463.37 215.23H464.73V271.2H463.37zM464.68 200.53H466.05V271.2H464.68zM466 180.94H467.37V271.2H466zM467.32 169.92H468.68V271.2H467.32zM468.63 169.92H470V271.2H468.63zM469.95 169.92H471.31V271.2H469.95zM471.26 178.49H472.63V271.2H471.26zM472.58 193.19H473.95V271.2H472.58zM473.9 193.19H475.26V271.2H473.9zM475.21 193.19H476.58V271.2H475.21zM476.53 183.39H477.89V271.2H476.53zM477.84 183.39H479.21V271.2H477.84zM479.16 183.39H480.53V271.2H479.16zM480.48 190.74H481.84V271.2H480.48zM481.79 202.98H483.16V271.2H481.79zM483.11 202.98H484.47V271.2H483.11zM484.42 217.68H485.79V271.2H484.42zM485.74 232.37H487.11V271.2H485.74zM487.06 245.84H488.42V271.2H487.06zM488.37 245.84H489.74V271.2H488.37zM489.69 245.84H491.05V271.2H489.69zM491 245.84H492.37V271.2H491zM492.32 245.84H493.68V271.2H492.32zM493.63 245.84H495V271.2H493.63zM494.95 227.48H496.32V271.2H494.95zM496.27 227.48H497.63V271.2H496.27zM497.58 198.58H498.95V271.2H497.58zM498.9 198.58H500.26V271.2H498.9zM500.21 198.58H501.58V271.2H500.21zM501.53 214H502.9V271.2H501.53zM502.85 227.48H504.21V271.2H502.85zM504.16 239.72H505.53V271.2H504.16zM505.48 248.29H506.84V271.2H505.48zM506.79 248.29H508.16V271.2H506.79zM508.11 255.64H509.48V271.2H508.11zM509.43 255.64H510.79V271.2H509.43zM510.74 255.64H512.11V271.2H510.74zM512.06 259.31H513.42V271.2H512.06zM513.37 259.31H514.74V271.2H513.37zM514.69 259.31H516.06V271.2H514.69zM516.01 259.31H517.37V271.2H516.01zM517.32 259.31H518.69V271.2H517.32zM518.64 259.31H520V271.2H518.64zM519.95 259.31H521.32V271.2H519.95zM521.27 259.31H522.64V271.2H521.27zM522.59 259.31H523.95V271.2H522.59zM523.9 259.31H525.27V271.2H523.9zM525.22 253.19H526.58V271.2H525.22zM526.53 237.27H527.9V271.2H526.53zM527.85 227.48H529.22V271.2H527.85zM529.17 227.48H530.53V271.2H529.17zM530.48 218.9H531.85V271.2H530.48zM531.8 213.27H533.16V271.2H531.8zM533.11 213.27H534.48V271.2H533.11zM534.43 213.27H535.8V271.2H534.43zM535.75 213.27H537.11V271.2H535.75zM537.06 213.27H538.43V271.2H537.06zM538.38 210.82H539.74V271.2H538.38zM539.69 213.27H541.06V271.2H539.69zM541.01 213.27H542.38V271.2H541.01zM542.33 213.27H543.69V271.2H542.33z" fill="#2094f6"/>
<polyline points="323.22,214.53 353.48,170.07 385.07,237.31 416.65,224.24 448.23,235.3 479.82,180.46 511.4,256.41 542.98,213.97" fill="none" stroke="#fa7f6f" stroke-width="1.1"/>
<circle cx="323.22" cy="214.53" r="2" fill="#fa7f6f"/>
<circle cx="353.48" cy="170.07" r="2" fill="#fa7f6f"/>
<circle cx="385.07" cy="237.31" r="2" fill="#fa7f6f"/>
<circle cx="416.65" cy="224.24" r="2" fill="#fa7f6f"/>
<circle cx="448.23" cy="235.3" r="2" fill="#fa7f6f"/>
<circle cx="479.82" cy="180.46" r="2" fill="#fa7f6f"/>
<circle cx="511.4" cy="256.41" r="2" fill="#fa7f6f"/>
<circle cx="542.98" cy="213.97" r="2" fill="#fa7f6f"/>
<path d="M322.3 422.6v-4.3M322.3 310.8v4.3M328.92 422.6v-2.3M328.92 310.8v2.3M335.53 422.6v-2.3M335.53 310.8v2.3M342.15 422.6v-2.3M342.15 310.8v2.3M348.76 422.6v-4.3M348.76 310.8v4.3M355.38 422.6v-2.3M355.38 310.8v2.3M361.99 422.6v-2.3M361.99 310.8v2.3M368.61 422.6v-2.3M368.61 310.8v2.3M375.22 422.6v-4.3M375.22 310.8v4.3M381.84 422.6v-2.3M381.84 310.8v2.3M388.45 422.6v-2.3M388.45 310.8v2.3M395.07 422.6v-2.3M395.07 310.8v2.3M401.68 422.6v-4.3M401.68 310.8v4.3M408.3 422.6v-2.3M408.3 310.8v2.3M414.92 422.6v-2.3M414.92 310.8v2.3M421.53 422.6v-2.3M421.53 310.8v2.3M428.15 422.6v-4.3M428.15 310.8v4.3M434.76 422.6v-2.3M434.76 310.8v2.3M441.38 422.6v-2.3M441.38 310.8v2.3M447.99 422.6v-2.3M447.99 310.8v2.3M454.61 422.6v-4.3M454.61 310.8v4.3M461.22 422.6v-2.3M461.22 310.8v2.3M467.84 422.6v-2.3M467.84 310.8v2.3M474.45 422.6v-2.3M474.45 310.8v2.3M481.07 422.6v-4.3M481.07 310.8v4.3M487.68 422.6v-2.3M487.68 310.8v2.3M494.3 422.6v-2.3M494.3 310.8v2.3M500.92 422.6v-2.3M500.92 310.8v2.3M507.53 422.6v-4.3M507.53 310.8v4.3M514.15 422.6v-2.3M514.15 310.8v2.3M520.76 422.6v-2.3M520.76 310.8v2.3M527.38 422.6v-2.3M527.38 310.8v2.3M533.99 422.6v-4.3M533.99 310.8v4.3M540.61 422.6v-2.3M540.61 310.8v2.3M322.3 422.6h4.3M545.9 422.6h-4.3M322.3 417.01h2.3M545.9 417.01h-2.3M322.3 411.42h2.3M545.9 411.42h-2.3M322.3 405.83h2.3M545.9 405.83h-2.3M322.3 400.24h4.3M545.9 400.24h-4.3M322.3 394.65h2.3M545.9 394.65h-2.3M322.3 389.06h2.3M545.9 389.06h-2.3M322.3 383.47h2.3M545.9 383.47h-2.3M322.3 377.88h4.3M545.9 377.88h-4.3M322.3 372.29h2.3M545.9 372.29h-2.3M322.3 366.7h2.3M545.9 366.7h-2.3M322.3 361.11h2.3M545.9 361.11h-2.3M322.3 355.52h4.3M545.9 355.52h-4.3M322.3 349.93h2.3M545.9 349.93h-2.3M322.3 344.34h2.3M545.9 344.34h-2.3M322.3 338.75h2.3M545.9 338.75h-2.3M322.3 333.16h4.3M545.9 333.16h-4.3M322.3 327.57h2.3M545.9 327.57h-2.3M322.3 321.98h2.3M545.9 321.98h-2.3M322.3 316.39h2.3M545.9 316.39h-2.3M322.3 310.8h4.3M545.9 310.8h-4.3" stroke="#000" stroke-width="0.9" fill="none"/>
<rect x="322.3" y="310.8" width="223.6" height="111.8" fill="none" stroke="#000" stroke-width="1.1"/>
<text x="324.5" y="432.2" text-anchor="middle" font-size="7.8">0</text>
<text x="350.96" y="432.2" text-anchor="middle" font-size="7.8">20</text>
<text x="377.42" y="432.2" text-anchor="middle" font-size="7.8">40</text>
<text x="403.88" y="432.2" text-anchor="middle" font-size="7.8">60</text>
<text x="430.35" y="432.2" text-anchor="middle" font-size="7.8">80</text>
<text x="456.81" y="432.2" text-anchor="middle" font-size="7.8">100</text>
<text x="483.27" y="432.2" text-anchor="middle" font-size="7.8">120</text>
<text x="509.73" y="432.2" text-anchor="middle" font-size="7.8">140</text>
<text x="536.19" y="432.2" text-anchor="middle" font-size="7.8">160</text>
<text x="320.1" y="426.3" text-anchor="end" font-size="7.8">0</text>
<text x="320.1" y="403.94" text-anchor="end" font-size="7.8">0.2</text>
<text x="320.1" y="381.58" text-anchor="end" font-size="7.8">0.4</text>
<text x="320.1" y="359.22" text-anchor="end" font-size="7.8">0.6</text>
<text x="320.1" y="336.86" text-anchor="end" font-size="7.8">0.8</text>
<text x="320.1" y="314.5" text-anchor="end" font-size="7.8">1</text>
<path d="M322.96 377.03H324.33V423.2H322.96zM324.28 384.37H325.66V423.2H324.28zM325.61 390.5H326.98V423.2H325.61zM326.93 396.62H328.3V423.2H326.93zM328.25 403.97H329.63V423.2H328.25zM329.58 403.97H330.95V423.2H329.58zM330.9 411.31H332.27V423.2H330.9zM332.22 411.31H333.6V423.2H332.22zM333.55 411.31H334.92V423.2H333.55zM334.87 396.62H336.24V423.2H334.87zM336.19 381.92H337.57V423.2H336.19zM337.52 364.78H338.89V423.2H337.52zM338.84 348.86H340.21V423.2H338.84zM340.16 332.94H341.53V423.2H340.16zM341.48 321.92H342.86V423.2H341.48zM342.81 321.92H344.18V423.2H342.81zM344.13 340.29H345.5V423.2H344.13zM345.45 358.66H346.83V423.2H345.45zM346.78 372.13H348.15V423.2H346.78zM348.1 376.29H349.47V423.2H348.1zM349.42 376.29H350.8V423.2H349.42zM350.75 378.74H352.12V423.2H350.75zM352.07 378.74H353.44V423.2H352.07zM353.39 384.86H354.77V423.2H353.39zM354.72 384.86H356.09V423.2H354.72zM356.04 384.86H357.41V423.2H356.04zM357.36 389.27H358.73V423.2H357.36zM358.68 399.07H360.06V423.2H358.68zM360.01 399.07H361.38V423.2H360.01zM361.33 407.64H362.7V423.2H361.33zM362.65 407.64H364.03V423.2H362.65zM363.98 407.64H365.35V423.2H363.98zM365.3 407.64H366.67V423.2H365.3zM366.62 397.84H368V423.2H366.62zM367.95 384.37H369.32V423.2H367.95zM369.27 372.13H370.64V423.2H369.27zM370.59 372.13H371.97V423.2H370.59zM371.92 361.84H373.29V423.2H371.92zM373.24 364.78H374.61V423.2H373.24zM374.56 364.78H375.93V423.2H374.56zM375.88 373.35H377.26V423.2H375.88zM377.21 380.7H378.58V423.2H377.21zM378.53 380.7H379.9V423.2H378.53zM379.85 383.15H381.23V423.2H379.85zM381.18 383.15H382.55V423.2H381.18zM382.5 391.72H383.87V423.2H382.5zM383.82 399.07H385.2V423.2H383.82zM385.15 403.48H386.52V423.2H385.15zM386.47 403.48H387.84V423.2H386.47zM387.79 403.48H389.17V423.2H387.79zM389.12 403.48H390.49V423.2H389.12zM390.44 403.48H391.81V423.2H390.44zM391.76 403.48H393.13V423.2H391.76zM393.08 403.48H394.46V423.2H393.08zM394.41 411.31H395.78V423.2H394.41zM395.73 411.31H397.1V423.2H395.73zM397.05 402.74H398.43V423.2H397.05zM398.38 402.74H399.75V423.2H398.38zM399.7 386.82H401.07V423.2H399.7zM401.02 370.9H402.4V423.2H401.02zM402.35 356.21H403.72V423.2H402.35zM403.67 340.29H405.04V423.2H403.67zM404.99 326.82H406.37V423.2H404.99zM406.32 321.92H407.69V423.2H406.32zM407.64 321.92H409.01V423.2H407.64zM408.96 325.1H410.33V423.2H408.96zM410.28 325.1H411.66V423.2H410.28zM411.61 327.55H412.98V423.2H411.61zM412.93 329.27H414.3V423.2H412.93zM414.25 329.27H415.63V423.2H414.25zM415.58 329.27H416.95V423.2H415.58zM416.9 336.61H418.27V423.2H416.9zM418.22 336.61H419.6V423.2H418.22zM419.55 357.43H420.92V423.2H419.55zM420.87 367.23H422.24V423.2H420.87zM422.19 377.03H423.57V423.2H422.19zM423.52 377.03H424.89V423.2H423.52zM424.84 386.82H426.21V423.2H424.84zM426.16 397.84H427.53V423.2H426.16zM427.48 411.31H428.86V423.2H427.48zM428.81 411.31H430.18V423.2H428.81zM430.13 399.07H431.5V423.2H430.13zM431.45 381.92H432.83V423.2H431.45zM432.78 367.23H434.15V423.2H432.78zM434.1 352.53H435.47V423.2H434.1zM435.42 340.29H436.8V423.2H435.42zM436.75 329.27H438.12V423.2H436.75zM438.07 321.92H439.44V423.2H438.07zM439.39 330.49H440.77V423.2H439.39zM440.72 342.74H442.09V423.2H440.72zM442.04 361.11H443.41V423.2H442.04zM443.36 361.11H444.73V423.2H443.36zM444.68 370.9H446.06V423.2H444.68zM446.01 379.48H447.38V423.2H446.01zM447.33 386.82H448.7V423.2H447.33zM448.65 390.5H450.03V423.2H448.65zM449.98 390.5H451.35V423.2H449.98zM451.3 390.5H452.67V423.2H451.3zM452.62 390.5H454V423.2H452.62zM453.95 393.68H455.32V423.2H453.95zM455.27 393.68H456.64V423.2H455.27zM456.59 393.68H457.97V423.2H456.59zM457.92 402.74H459.29V423.2H457.92zM459.24 411.31H460.61V423.2H459.24zM460.56 411.31H461.93V423.2H460.56zM461.88 403.97H463.26V423.2H461.88zM463.21 386.82H464.58V423.2H463.21zM464.53 369.68H465.9V423.2H464.53zM465.85 354.98H467.23V423.2H465.85zM467.18 337.84H468.55V423.2H467.18zM468.5 321.92H469.87V423.2H468.5zM469.82 321.92H471.2V423.2H469.82zM471.15 321.92H472.52V423.2H471.15zM472.47 321.92H473.84V423.2H472.47zM473.79 328.04H475.17V423.2H473.79zM475.12 328.04H476.49V423.2H475.12zM476.44 328.04H477.81V423.2H476.44zM477.76 328.04H479.13V423.2H477.76zM479.08 328.04H480.46V423.2H479.08zM480.41 328.04H481.78V423.2H480.41zM481.73 328.04H483.1V423.2H481.73zM483.05 328.04H484.43V423.2H483.05zM484.38 328.04H485.75V423.2H484.38zM485.7 342.74H487.07V423.2H485.7zM487.02 362.33H488.4V423.2H487.02zM488.35 379.48H489.72V423.2H488.35zM489.67 391.72H491.04V423.2H489.67zM490.99 402.74H492.37V423.2H490.99zM492.32 411.31H493.69V423.2H492.32zM493.64 411.31H495.01V423.2H493.64zM494.96 411.31H496.33V423.2H494.96zM496.28 411.31H497.66V423.2H496.28zM497.61 411.31H498.98V423.2H497.61zM498.93 396.13H500.3V423.2H498.93zM500.25 396.13H501.63V423.2H500.25zM501.58 396.13H502.95V423.2H501.58zM502.9 399.07H504.27V423.2H502.9zM504.22 406.42H505.6V423.2H504.22zM505.55 406.42H506.92V423.2H505.55zM506.87 411.31H508.24V423.2H506.87zM508.19 411.31H509.57V423.2H508.19zM509.52 411.31H510.89V423.2H509.52zM510.84 411.31H512.21V423.2H510.84zM512.16 410.82H513.53V423.2H512.16zM513.48 410.82H514.86V423.2H513.48zM514.81 410.82H516.18V423.2H514.81zM516.13 410.82H517.5V423.2H516.13zM517.45 410.82H518.83V423.2H517.45zM518.78 410.82H520.15V423.2H518.78zM520.1 411.8H521.47V423.2H520.1zM521.42 411.8H522.8V423.2H521.42zM522.75 411.8H524.12V423.2H522.75zM524.07 411.8H525.44V423.2H524.07zM525.39 402.74H526.77V423.2H525.39zM526.72 390.5H528.09V423.2H526.72zM528.04 377.03H529.41V423.2H528.04zM529.36 362.33H530.73V423.2H529.36zM530.68 362.33H532.06V423.2H530.68zM532.01 346.41H533.38V423.2H532.01zM533.33 331.23H534.7V423.2H533.33zM534.65 331.23H536.03V423.2H534.65zM535.98 331.23H537.35V423.2H535.98zM537.3 337.84H538.67V423.2H537.3zM538.62 348.86H540V423.2H538.62zM539.95 367.23H541.32V423.2H539.95zM541.27 367.23H542.64V423.2H541.27zM542.59 367.23H543.97V423.2H542.59zM543.92 367.23H545.29V423.2H543.92z" fill="#2094f6"/>
<polyline points="323.62,376.99 354.05,386.82 385.81,403.48 417.56,328.58 449.32,389.73 481.07,328.02 512.82,410.86 544.58,366.48" fill="none" stroke="#fa7f6f" stroke-width="1.1"/>
<circle cx="323.62" cy="376.99" r="2" fill="#fa7f6f"/>
<circle cx="354.05" cy="386.82" r="2" fill="#fa7f6f"/>
<circle cx="385.81" cy="403.48" r="2" fill="#fa7f6f"/>
<circle cx="417.56" cy="328.58" r="2" fill="#fa7f6f"/>
<circle cx="449.32" cy="389.73" r="2" fill="#fa7f6f"/>
<circle cx="481.07" cy="328.02" r="2" fill="#fa7f6f"/>
<circle cx="512.82" cy="410.86" r="2" fill="#fa7f6f"/>
<circle cx="544.58" cy="366.48" r="2" fill="#fa7f6f"/>
<text transform="translate(14.3 66.4) rotate(-90)" text-anchor="middle" font-size="10.2">Power /kW</text>
<text transform="translate(18.4 212.6) rotate(-90)" text-anchor="middle" font-size="10.2">Power /kW</text>
<text transform="translate(14.8 369.65) rotate(-90)" text-anchor="middle" font-size="10.2">Power /kW</text>
<text transform="translate(302.5 66.05) rotate(-90)" text-anchor="middle" font-size="10.2">SOC</text>
<text transform="translate(302.0 218.15) rotate(-90)" text-anchor="middle" font-size="10.2">SOC</text>
<text transform="translate(303.0 370.1) rotate(-90)" text-anchor="middle" font-size="10.2">SOC</text>
<text x="142.3" y="441.8" text-anchor="middle" font-size="10.2">Time/h</text>
<text x="426" y="440.8" text-anchor="middle" font-size="10.2">Time/h</text>
<rect x="36.6" y="445.6" width="15.3" height="4.6" fill="#7f35cc"/>
<rect x="36.6" y="457.3" width="15.3" height="4.6" fill="#ffbe7a"/>
<rect x="36.6" y="468.6" width="15.3" height="4.6" fill="#8ecfc9"/>
<path d="M36.6 481.8h15.3" stroke="#fa7f6f" stroke-width="1"/>
<text x="53.7" y="451.7" font-size="10.2" textLength="173" lengthAdjust="spacing">Microgrid purchase and sale of electricity</text>
<text x="53.7" y="462.8" font-size="10.2" textLength="104.2" lengthAdjust="spacing">Micro gas turbine output</text>
<text x="53.7" y="473.9" font-size="10.2" textLength="172.2" lengthAdjust="spacing">Energy storage charging and discharging</text>
<text x="53.7" y="485.4" font-size="10.2" textLength="35.5" lengthAdjust="spacing">Net load</text>
<path d="M309.5 448h15.3" stroke="#fa7f6f" stroke-width="1"/><circle cx="317.1" cy="448" r="1.6" fill="#fa7f6f"/>
<rect x="309.5" y="457.8" width="15.3" height="4.6" fill="#2094f6"/>
<text x="326.7" y="451.5" font-size="10.2" textLength="66.1" lengthAdjust="spacing">Daily final SOC</text>
<text x="326.7" y="463.6" font-size="10.2" textLength="105.8" lengthAdjust="spacing">SOC for each time period</text>
</svg>
</body></html>
